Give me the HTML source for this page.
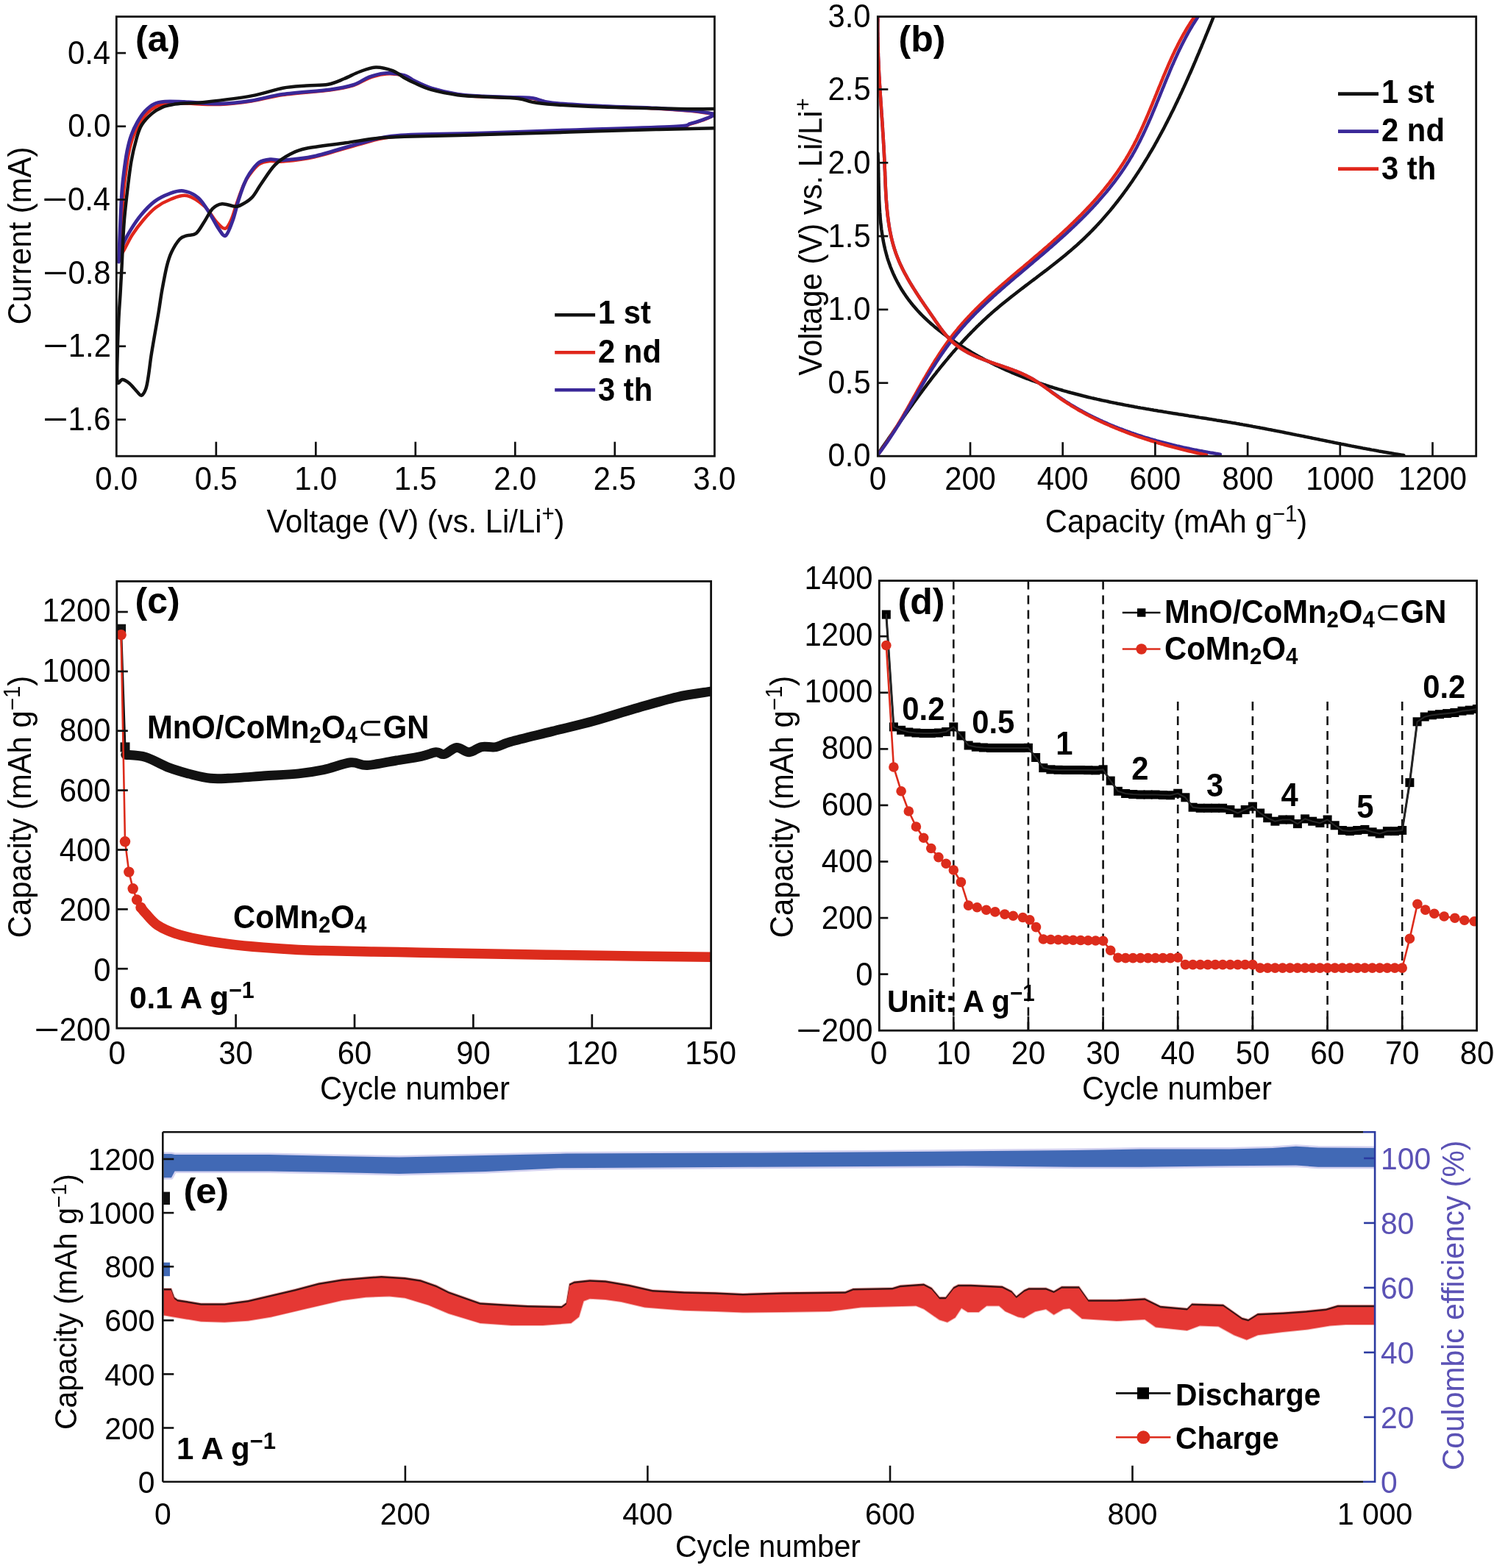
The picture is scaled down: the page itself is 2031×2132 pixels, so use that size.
<!DOCTYPE html>
<html><head><meta charset="utf-8"><title>Electrochemical performance</title>
<style>
html,body{margin:0;padding:0;background:#fff;width:2031px;height:2132px;overflow:hidden}
svg{display:block}
text{font-family:'Liberation Sans', Arial, sans-serif;}
</style></head><body>
<svg xmlns="http://www.w3.org/2000/svg" width="2031" height="2132" viewBox="0 0 2031 2132">
<rect width="2031" height="2132" fill="#fff"/>
<defs>
<clipPath id="ca"><rect x="158.3" y="22.6" width="813.1" height="597.6"/></clipPath>
<clipPath id="cb"><rect x="1193.3" y="22.6" width="813.4" height="597.6"/></clipPath>
<clipPath id="cc"><rect x="158.8" y="790.4" width="807.8" height="607.7"/></clipPath>
<clipPath id="cd"><rect x="1195.3" y="789.6" width="812.3" height="611.6"/></clipPath>
<clipPath id="ce"><rect x="221.3" y="1539.3" width="1647.8" height="475.5"/></clipPath>
</defs>
<g clip-path="url(#ca)">
<path d="M163 348 C163.4 340 164.7 314.3 165.5 300 C166.3 285.7 167.1 272.8 168 262 C168.9 251.2 169.8 244 171 235 C172.2 226 173.3 216.2 175 208 C176.7 199.8 178.5 192.7 181 186 C183.5 179.3 186.8 173.3 190 168 C193.2 162.7 196.3 157.8 200 154 C203.7 150.2 207.7 147.2 212 145 C216.3 142.8 219.7 141.8 226 141 C232.3 140.2 237.8 140.3 250 140.5 C262.2 140.7 284 142.5 299.3 142 C314.6 141.5 327.7 139.7 341.9 137.5 C356.1 135.3 366.7 131.5 384.5 129 C402.3 126.5 432.5 124.7 448.5 122.5 C464.5 120.3 471.6 118.8 480.5 116 C489.4 113.2 494.3 108.6 501.8 106 C509.3 103.4 517.3 101 525.3 100.5 C533.3 100 543.6 101.3 550 103 C556.4 104.7 557.4 107.6 563.5 110.5 C569.6 113.4 577.1 117.5 586.9 120.5 C596.7 123.5 610.4 126.7 622.1 128.5 C633.8 130.3 643.6 130.8 657.3 131.5 C671 132.2 692.9 132.6 704.2 133 C715.5 133.4 717.2 132.8 725 134 C732.8 135.2 735 138.7 751.1 140.5 C767.2 142.3 798 143.8 821.5 145 C845 146.2 872.3 146.5 891.8 147.5 C911.3 148.5 927.3 149.8 938.7 150.8 C950.1 151.8 954.7 152.6 960 153.5 C965.3 154.4 971.2 154.5 970.4 156.2 C969.6 157.9 960.3 161.4 955 163.5 C949.7 165.6 945.3 166.9 938.7 168.5 C932.1 170.1 942.7 171.4 915.3 173 C887.9 174.6 817.5 176.4 774.5 178 C731.5 179.6 696.4 181.2 657.3 182.5 C618.2 183.8 567.7 183.3 540 185.5 C512.3 187.7 510 190.8 491.2 195.5 C472.4 200.2 445 209.5 427.2 213.5 C409.4 217.5 394.4 218.6 384.5 219.5 C374.6 220.4 373.1 218.3 367.7 219 C362.3 219.7 356.9 220.2 352 223.5 C347.1 226.8 342.1 233.8 338.6 238.5 C335.1 243.2 333.8 245.8 331 252 C328.2 258.2 324.7 268.3 322 276 C319.3 283.7 317.4 292.2 314.7 298 C312 303.8 309.4 310.3 305.9 310.8 C302.4 311.3 298.6 306.3 293.9 301.2 C289.2 296.1 284.6 286.3 277.9 280.4 C271.2 274.5 261.6 267.6 253.9 266 C246.2 264.4 239 268.3 232 271 C225 273.7 218.2 277.3 212 282 C205.8 286.7 200.3 292.8 195 299 C189.7 305.2 184.4 312.2 180 319 C175.6 325.8 171.3 335.2 168.5 340 C165.7 344.8 163.9 346.7 163 348" fill="none" stroke="#e0261b" stroke-width="4.5" stroke-linejoin="round" stroke-linecap="round"/>
<path d="M161.4 356.1 C161.8 347.6 162.8 320.5 163.5 304.9 C164.2 289.2 164.8 274 165.6 262.2 C166.4 250.3 167.3 243.3 168.5 233.8 C169.7 224.3 171.2 213.6 172.8 205.3 C174.5 197 176 190.6 178.4 184 C180.8 177.4 183.9 170.9 187 165.5 C190.1 160.1 193.1 155.3 196.9 151.3 C200.7 147.3 205.2 143.5 209.7 141.3 C214.2 139.1 217.3 138.7 224 138.2 C230.7 137.7 237.4 138 250 138.5 C262.6 139 284 141.3 299.3 141 C314.6 140.7 327.7 138.9 341.9 136.8 C356.1 134.7 366.7 130.7 384.5 128.2 C402.3 125.7 432.5 123.9 448.5 121.8 C464.5 119.7 471.6 118.2 480.5 115.4 C489.4 112.6 494.3 107.5 501.8 104.8 C509.3 102.1 517.3 99.8 525.3 99.4 C533.3 99 543.6 100.8 550 102.6 C556.4 104.4 557.4 107.1 563.5 110 C569.6 112.9 577.1 117 586.9 120 C596.7 123 610.4 126.2 622.1 128 C633.8 129.8 643.6 130.2 657.3 131 C671 131.8 692.9 132.1 704.2 132.5 C715.5 132.9 717.2 132.2 725 133.5 C732.8 134.8 735 138.2 751.1 140 C767.2 141.8 798 143.3 821.5 144.5 C845 145.7 872.3 146 891.8 147 C911.3 148 927.3 149.3 938.7 150.3 C950.1 151.3 954.7 152 960 153 C965.3 154 971.2 154.5 970.4 156.2 C969.6 157.9 960.3 161 955 163 C949.7 165 945.3 166.5 938.7 168 C932.1 169.5 942.7 170.6 915.3 172.1 C887.9 173.6 817.5 175.3 774.5 176.8 C731.5 178.3 696.4 179.8 657.3 181 C618.2 182.2 567.7 182.1 540 184.3 C512.3 186.5 510 189.6 491.2 194.3 C472.4 199 445 208.5 427.2 212.4 C409.4 216.3 394.4 217.1 384.5 217.8 C374.6 218.5 373.1 216.2 367.7 216.7 C362.3 217.2 356.9 217.6 352 221 C347.1 224.4 341.9 232.2 338.6 237 C335.3 241.8 334.4 244 332 250 C329.6 256 326.6 264.7 324 273 C321.4 281.3 319.2 292.1 316.3 300 C313.4 307.9 309.9 318.6 306.7 320.4 C303.5 322.2 300.6 315.6 297.1 310.8 C293.6 306 290.4 298.5 285.9 291.6 C281.4 284.7 276 274.5 269.9 269.2 C263.8 263.9 255.8 260.6 249.1 259.6 C242.4 258.7 236.5 261.1 230 263.5 C223.5 265.9 216.3 269.2 210 274 C203.7 278.8 197.3 285.7 192 292 C186.7 298.3 182.2 305.2 178 312 C173.8 318.8 169.9 325.6 167.1 333 C164.3 340.4 162.3 352.2 161.4 356.1" fill="none" stroke="#3a2898" stroke-width="4.8" stroke-linejoin="round" stroke-linecap="round"/>
<path d="M971.6 174.2 C958.3 174.5 924.6 175.2 891.8 176.1 C858.9 177 813.6 178.4 774.5 179.6 C735.4 180.8 694.7 182.1 657.3 183.1 C619.9 184.1 574.1 185 550 185.8 C525.9 186.6 525.9 186.6 512.5 188 C499.1 189.4 485.8 192 469.8 194.3 C453.8 196.6 428.9 199.3 416.5 201.8 C404.1 204.3 402.3 205.6 395.2 209.3 C388.1 213 380.6 217.4 373.9 224.2 C367.2 231 360.3 242.5 355 250 C349.7 257.5 346.8 264.3 341.9 269.2 C337 274.1 329.9 277.7 325.9 279.6 C321.9 281.5 321.9 280.8 317.9 280.4 C313.9 280 306.7 276.7 301.9 277.2 C297.1 277.7 293.1 279.6 289.1 283.6 C285.1 287.6 281.6 295.6 277.9 301.2 C274.2 306.8 270.7 314 266.7 317.2 C262.7 320.4 257.6 319.1 253.9 320.4 C250.2 321.7 247.8 321.5 244.3 325.2 C240.9 328.9 236.1 336.7 233.2 342.8 C230.3 348.9 228.9 353.4 226.8 361.9 C224.7 370.4 222.3 383.5 220.4 393.9 C218.5 404.3 217.4 413.6 215.6 424.5 C213.8 435.4 211.3 449 209.6 459.1 C207.9 469.2 206.6 476.4 205.3 485 C204 493.6 203 503.7 201.8 510.9 C200.7 518.1 200 523.7 198.4 528.2 C196.8 532.7 194.3 537 192.3 537.7 C190.3 538.4 189 535.2 186.3 532.5 C183.6 529.8 179.2 524 175.9 521.3 C172.6 518.6 169.1 516.5 166.4 516.1 C163.7 515.7 160.6 525.3 159.5 518.7 C158.4 512.1 159.5 490.6 159.8 476.4 C160.1 462.1 160.8 445.9 161.4 433.2 C162 420.5 162.8 411.9 163.5 400 C164.2 388.1 164.8 377.7 165.6 361.8 C166.4 345.9 167.3 321.5 168.5 304.9 C169.7 288.3 171.2 276.4 172.8 262.2 C174.5 248 176.3 231.9 178.4 219.6 C180.5 207.3 183.2 196.6 185.6 188.3 C188 180 189.1 175.5 192.7 169.8 C196.2 164.1 202.2 158.1 206.9 154.1 C211.6 150.1 216.4 147.6 221.1 145.6 C225.8 143.6 230.5 142.9 235.3 142.1 C240.1 141.3 242.9 141.1 250 140.6 C257.1 140.1 262.7 140.6 278 138.9 C293.3 137.2 324.1 133.6 341.9 130.4 C359.6 127.2 372.1 122 384.5 119.7 C396.9 117.4 406.2 117.3 416.5 116.5 C426.8 115.7 437.4 116.4 446 114.8 C454.6 113.2 460.8 109.9 468 107 C475.2 104.1 481.8 100.1 489 97.5 C496.2 94.9 503.5 91.7 511 91.5 C518.5 91.3 527.3 93.8 533.8 96.2 C540.3 98.6 545 103.2 550 106 C555 108.8 557.4 110.1 563.5 112.8 C569.6 115.5 577.1 119.5 586.9 122.2 C596.7 124.9 610.4 127.6 622.1 129.2 C633.8 130.8 643.6 130.7 657.3 131.5 C671 132.3 693.2 132.7 704.2 133.9 C715.2 135.1 715.2 137.2 723 138.6 C730.8 140 734.7 140.9 751.1 142.1 C767.5 143.3 798 144.8 821.5 145.6 C845 146.4 872.3 146.8 891.8 147.2 C911.3 147.6 925.4 148.2 938.7 148.3 C952 148.4 966.1 148.1 971.6 148" fill="none" stroke="#121212" stroke-width="4.5" stroke-linejoin="round" stroke-linecap="round"/>
</g>
<rect x="158.3" y="22.6" width="813.1" height="597.6" fill="none" stroke="#111" stroke-width="2.8"/>
<line x1="293.8" y1="620.2" x2="293.8" y2="600.7" stroke="#111" stroke-width="2.7"/>
<line x1="429.3" y1="620.2" x2="429.3" y2="600.7" stroke="#111" stroke-width="2.7"/>
<line x1="564.8" y1="620.2" x2="564.8" y2="600.7" stroke="#111" stroke-width="2.7"/>
<line x1="700.3" y1="620.2" x2="700.3" y2="600.7" stroke="#111" stroke-width="2.7"/>
<line x1="835.8" y1="620.2" x2="835.8" y2="600.7" stroke="#111" stroke-width="2.7"/>
<line x1="158.3" y1="72.1" x2="171.1" y2="72.1" stroke="#111" stroke-width="2.7"/>
<line x1="158.3" y1="171.8" x2="171.1" y2="171.8" stroke="#111" stroke-width="2.7"/>
<line x1="158.3" y1="271.4" x2="171.1" y2="271.4" stroke="#111" stroke-width="2.7"/>
<line x1="158.3" y1="371.1" x2="171.1" y2="371.1" stroke="#111" stroke-width="2.7"/>
<line x1="158.3" y1="470.8" x2="171.1" y2="470.8" stroke="#111" stroke-width="2.7"/>
<line x1="158.3" y1="570.5" x2="171.1" y2="570.5" stroke="#111" stroke-width="2.7"/>
<text transform="translate(150 86.7) scale(0.950 1)" font-size="44" text-anchor="end">0.4</text>
<text transform="translate(150.4 186.4) scale(0.950 1)" font-size="44" text-anchor="end">0.0</text>
<text transform="translate(150 286.1) scale(0.950 1)" font-size="44" text-anchor="end">0.4</text>
<text transform="translate(57.6 286.1) scale(1.347 1)" font-size="44">−</text>
<text transform="translate(150.6 385.7) scale(0.950 1)" font-size="44" text-anchor="end">0.8</text>
<text transform="translate(58.2 385.7) scale(1.347 1)" font-size="44">−</text>
<text transform="translate(150.9 485.4) scale(0.950 1)" font-size="44" text-anchor="end">1.2</text>
<text transform="translate(58.5 485.4) scale(1.347 1)" font-size="44">−</text>
<text transform="translate(150.6 585.1) scale(0.950 1)" font-size="44" text-anchor="end">1.6</text>
<text transform="translate(58.2 585.1) scale(1.347 1)" font-size="44">−</text>
<text transform="translate(158.3 665.7) scale(0.950 1)" font-size="44" text-anchor="middle">0.0</text>
<text transform="translate(293.8 665.7) scale(0.950 1)" font-size="44" text-anchor="middle">0.5</text>
<text transform="translate(429.3 665.7) scale(0.950 1)" font-size="44" text-anchor="middle">1.0</text>
<text transform="translate(564.8 665.7) scale(0.950 1)" font-size="44" text-anchor="middle">1.5</text>
<text transform="translate(700.3 665.7) scale(0.950 1)" font-size="44" text-anchor="middle">2.0</text>
<text transform="translate(835.8 665.7) scale(0.950 1)" font-size="44" text-anchor="middle">2.5</text>
<text transform="translate(971.3 665.7) scale(0.950 1)" font-size="44" text-anchor="middle">3.0</text>
<text transform="translate(565 724.4) scale(0.950 1)" font-size="44" text-anchor="middle">Voltage (V) (vs. Li/Li<tspan font-size="31" dy="-15">+</tspan><tspan dy="15">)</tspan></text>
<text transform="translate(42 320.4) rotate(-90) scale(0.950 1)" font-size="44" text-anchor="middle">Current (mA)</text>
<text transform="translate(183.9 70.3)" font-size="50" font-weight="bold">(a)</text>
<line x1="754.2" y1="428.3" x2="809.1" y2="428.3" stroke="#121212" stroke-width="4.6"/>
<text transform="translate(813 440.3) scale(0.950 1)" font-size="44" font-weight="bold">1 st</text>
<line x1="754.2" y1="479.3" x2="809.1" y2="479.3" stroke="#e0261b" stroke-width="4.6"/>
<text transform="translate(813 492.8) scale(0.950 1)" font-size="44" font-weight="bold">2 nd</text>
<line x1="754.2" y1="530.3" x2="809.1" y2="530.3" stroke="#3a2898" stroke-width="4.6"/>
<text transform="translate(813 545.3) scale(0.950 1)" font-size="44" font-weight="bold">3 th</text>
<g clip-path="url(#cb)">
<path d="M1193.4 208.4 L1193.5 210.3 L1193.6 212.3 L1193.6 214.2 L1193.7 216.2 L1193.8 218.1 L1193.8 220.1 L1193.9 222 L1194 224 L1194 226 L1194.1 228 L1194.1 230 L1194.2 231.9 L1194.2 233.9 L1194.3 235.9 L1194.3 237.9 L1194.3 240 L1194.4 242 L1194.4 244 L1194.5 246 L1194.5 248 L1194.6 250.1 L1194.6 252.1 L1194.7 254.1 L1194.7 256.2 L1194.8 258.2 L1194.8 260.3 L1194.9 262.3 L1194.9 264.3 L1195 266.4 L1195.1 268.4 L1195.1 270.5 L1195.2 272.5 L1195.3 274.6 L1195.4 276.6 L1195.5 278.7 L1195.6 280.7 L1195.7 282.8 L1195.8 284.8 L1196 286.9 L1196.1 288.9 L1196.3 291 L1196.4 293 L1196.6 295 L1196.7 297.1 L1196.9 299.1 L1197.1 301.2 L1197.3 303.2 L1197.5 305.2 L1197.8 307.2 L1198 309.3 L1198.2 311.3 L1198.5 313.3 L1198.8 315.3 L1199.1 317.3 L1199.4 319.3 L1199.7 321.3 L1200 323.3 L1200.4 325.3 L1200.7 327.3 L1201.1 329.3 L1201.5 331.2 L1201.9 333.2 L1202.3 335.1 L1202.8 337.1 L1203.2 339 L1203.7 341 L1204.2 342.9 L1204.7 344.8 L1205.2 346.8 L1205.8 348.7 L1206.3 350.6 L1206.9 352.5 L1207.5 354.3 L1208.2 356.2 L1208.8 358.1 L1209.5 359.9 L1210.1 361.8 L1210.8 363.6 L1211.6 365.5 L1212.3 367.3 L1213.1 369.1 L1213.8 370.9 L1214.6 372.7 L1215.5 374.5 L1216.3 376.3 L1217.1 378 L1218 379.8 L1218.9 381.5 L1219.8 383.3 L1220.7 385 L1221.7 386.7 L1222.6 388.4 L1223.6 390.1 L1224.6 391.8 L1225.6 393.5 L1226.7 395.2 L1227.7 396.8 L1228.8 398.5 L1229.9 400.1 L1231 401.7 L1232.1 403.3 L1233.3 404.9 L1234.4 406.5 L1235.6 408.1 L1236.8 409.7 L1238 411.2 L1239.2 412.8 L1240.5 414.3 L1241.7 415.8 L1243 417.3 L1244.3 418.8 L1245.6 420.3 L1246.9 421.8 L1248.3 423.3 L1249.7 424.7 L1251 426.2 L1252.4 427.6 L1253.8 429 L1255.2 430.4 L1256.7 431.8 L1258.1 433.2 L1259.6 434.6 L1261 435.9 L1262.5 437.3 L1264 438.6 L1265.5 440 L1267 441.3 L1268.6 442.6 L1270.1 443.9 L1271.7 445.2 L1273.2 446.5 L1274.8 447.7 L1276.4 449 L1278 450.3 L1279.6 451.5 L1281.2 452.7 L1282.8 454 L1284.4 455.2 L1286.1 456.4 L1287.7 457.6 L1289.4 458.7 L1291 459.9 L1292.7 461.1 L1294.4 462.2 L1296.1 463.4 L1297.7 464.5 L1299.4 465.7 L1301.1 466.8 L1302.8 467.9 L1304.5 469 L1306.2 470.1 L1308 471.2 L1309.7 472.3 L1311.4 473.3 L1313.1 474.4 L1314.9 475.5 L1316.6 476.5 L1318.3 477.5 L1320.1 478.6 L1321.8 479.6 L1323.6 480.6 L1325.3 481.6 L1327.1 482.6 L1328.8 483.6 L1330.6 484.6 L1332.4 485.6 L1334.1 486.5 L1335.9 487.5 L1337.7 488.4 L1339.5 489.4 L1341.3 490.3 L1343.1 491.2 L1344.8 492.1 L1346.6 493 L1348.4 493.9 L1350.2 494.8 L1352 495.7 L1353.9 496.6 L1355.7 497.5 L1357.5 498.3 L1359.3 499.2 L1361.1 500 L1362.9 500.9 L1364.8 501.7 L1366.6 502.6 L1368.4 503.4 L1370.3 504.2 L1372.1 505 L1373.9 505.8 L1375.8 506.6 L1377.6 507.4 L1379.5 508.1 L1381.3 508.9 L1383.2 509.7 L1385 510.4 L1386.9 511.2 L1388.7 511.9 L1390.6 512.6 L1392.5 513.4 L1394.3 514.1 L1396.2 514.8 L1398.1 515.5 L1399.9 516.2 L1401.8 516.9 L1403.7 517.6 L1405.5 518.2 L1407.4 518.9 L1409.3 519.6 L1411.2 520.2 L1413.1 520.9 L1415 521.5 L1416.8 522.2 L1418.7 522.8 L1420.6 523.4 L1422.5 524.1 L1424.4 524.7 L1426.3 525.3 L1428.2 525.9 L1430.1 526.5 L1432 527.1 L1433.9 527.7 L1435.8 528.2 L1437.7 528.8 L1439.7 529.4 L1441.6 529.9 L1443.5 530.5 L1445.4 531.1 L1447.3 531.6 L1449.2 532.1 L1451.2 532.7 L1453.1 533.2 L1455 533.7 L1456.9 534.3 L1458.9 534.8 L1460.8 535.3 L1462.7 535.8 L1464.6 536.3 L1466.6 536.8 L1468.5 537.3 L1470.4 537.8 L1472.4 538.3 L1474.3 538.7 L1476.3 539.2 L1478.2 539.7 L1480.1 540.2 L1482.1 540.6 L1484 541.1 L1486 541.5 L1487.9 542 L1489.9 542.4 L1491.8 542.9 L1493.8 543.3 L1495.7 543.7 L1497.7 544.2 L1499.6 544.6 L1501.6 545 L1503.5 545.4 L1505.5 545.8 L1507.4 546.3 L1509.4 546.7 L1511.4 547.1 L1513.3 547.5 L1515.3 547.9 L1517.3 548.3 L1519.2 548.7 L1521.2 549.1 L1523.2 549.4 L1525.1 549.8 L1527.1 550.2 L1529.1 550.6 L1531 551 L1533 551.3 L1535 551.7 L1536.9 552.1 L1538.9 552.4 L1540.9 552.8 L1542.9 553.2 L1544.8 553.5 L1546.8 553.9 L1548.8 554.2 L1550.8 554.6 L1552.7 554.9 L1554.7 555.3 L1556.7 555.6 L1558.7 556 L1560.7 556.3 L1562.6 556.6 L1564.6 557 L1566.6 557.3 L1568.6 557.7 L1570.6 558 L1572.5 558.3 L1574.5 558.7 L1576.5 559 L1578.5 559.3 L1580.5 559.6 L1582.5 560 L1584.5 560.3 L1586.4 560.6 L1588.4 560.9 L1590.4 561.2 L1592.4 561.6 L1594.4 561.9 L1596.4 562.2 L1598.4 562.5 L1600.3 562.8 L1602.3 563.2 L1604.3 563.5 L1606.3 563.8 L1608.3 564.1 L1610.3 564.4 L1612.3 564.7 L1614.3 565 L1616.2 565.4 L1618.2 565.7 L1620.2 566 L1622.2 566.3 L1624.2 566.6 L1626.2 566.9 L1628.2 567.2 L1630.2 567.6 L1632.1 567.9 L1634.1 568.2 L1636.1 568.5 L1638.1 568.8 L1640.1 569.1 L1642.1 569.4 L1644.1 569.8 L1646.1 570.1 L1648 570.4 L1650 570.7 L1652 571 L1654 571.4 L1656 571.7 L1658 572 L1660 572.3 L1661.9 572.7 L1663.9 573 L1665.9 573.3 L1667.9 573.6 L1669.9 574 L1671.9 574.3 L1673.8 574.6 L1675.8 575 L1677.8 575.3 L1679.8 575.6 L1681.8 576 L1683.7 576.3 L1685.7 576.7 L1687.7 577 L1689.7 577.4 L1691.6 577.7 L1693.6 578.1 L1695.6 578.4 L1697.6 578.8 L1699.5 579.1 L1701.5 579.5 L1703.5 579.9 L1705.5 580.2 L1707.4 580.6 L1709.4 581 L1711.4 581.3 L1713.3 581.7 L1715.3 582.1 L1717.3 582.4 L1719.2 582.8 L1721.2 583.2 L1723.2 583.6 L1725.1 584 L1727.1 584.3 L1729.1 584.7 L1731 585.1 L1733 585.5 L1735 585.9 L1736.9 586.3 L1738.9 586.6 L1740.9 587 L1742.8 587.4 L1744.8 587.8 L1746.8 588.2 L1748.7 588.6 L1750.7 589 L1752.7 589.4 L1754.6 589.8 L1756.6 590.2 L1758.5 590.6 L1760.5 591 L1762.5 591.4 L1764.4 591.7 L1766.4 592.1 L1768.3 592.5 L1770.3 592.9 L1772.3 593.3 L1774.2 593.7 L1776.2 594.1 L1778.2 594.5 L1780.1 594.9 L1782.1 595.3 L1784 595.7 L1786 596.1 L1788 596.5 L1789.9 596.9 L1791.9 597.3 L1793.8 597.7 L1795.8 598.1 L1797.8 598.5 L1799.7 598.9 L1801.7 599.3 L1803.7 599.7 L1805.6 600.1 L1807.6 600.5 L1809.5 600.9 L1811.5 601.3 L1813.5 601.7 L1815.4 602.1 L1817.4 602.5 L1819.4 602.9 L1821.3 603.3 L1823.3 603.7 L1825.3 604 L1827.2 604.4 L1829.2 604.8 L1831.2 605.2 L1833.1 605.6 L1835.1 606 L1837.1 606.4 L1839 606.7 L1841 607.1 L1843 607.5 L1844.9 607.9 L1846.9 608.3 L1848.9 608.6 L1850.8 609 L1852.8 609.4 L1854.8 609.7 L1856.8 610.1 L1858.7 610.5 L1860.7 610.8 L1862.7 611.2 L1864.7 611.6 L1866.6 611.9 L1868.6 612.3 L1870.6 612.6 L1872.6 613 L1874.5 613.4 L1876.5 613.7 L1878.5 614.1 L1880.5 614.4 L1882.5 614.7 L1884.4 615.1 L1886.4 615.4 L1888.4 615.8 L1890.4 616.1 L1892.4 616.4 L1894.4 616.8 L1896.3 617.1 L1898.3 617.4 L1900.3 617.7 L1902.3 618.1 L1904.3 618.4 L1906.3 618.7 L1908.3 619" fill="none" stroke="#121212" stroke-width="4.5" stroke-linejoin="round" stroke-linecap="round"/>
<path d="M1193.4 617.4 L1194.6 615.7 L1195.7 614.1 L1196.9 612.4 L1198 610.7 L1199.1 609.1 L1200.3 607.4 L1201.4 605.8 L1202.6 604.1 L1203.7 602.5 L1204.9 600.8 L1206 599.2 L1207.2 597.5 L1208.3 595.8 L1209.4 594.2 L1210.6 592.5 L1211.7 590.9 L1212.9 589.2 L1214 587.6 L1215.2 585.9 L1216.3 584.2 L1217.5 582.6 L1218.6 580.9 L1219.8 579.3 L1220.9 577.6 L1222.1 576 L1223.2 574.3 L1224.4 572.7 L1225.5 571 L1226.7 569.4 L1227.9 567.7 L1229 566.1 L1230.2 564.4 L1231.3 562.8 L1232.5 561.1 L1233.7 559.5 L1234.8 557.8 L1236 556.2 L1237.2 554.5 L1238.3 552.9 L1239.5 551.3 L1240.7 549.6 L1241.8 548 L1243 546.4 L1244.2 544.7 L1245.4 543.1 L1246.6 541.5 L1247.7 539.8 L1248.9 538.2 L1250.1 536.6 L1251.3 535 L1252.5 533.4 L1253.7 531.7 L1254.9 530.1 L1256.1 528.5 L1257.3 526.9 L1258.5 525.3 L1259.7 523.7 L1260.9 522.1 L1262.1 520.5 L1263.4 518.9 L1264.6 517.3 L1265.8 515.7 L1267 514.1 L1268.2 512.5 L1269.5 510.9 L1270.7 509.4 L1272 507.8 L1273.2 506.2 L1274.4 504.6 L1275.7 503.1 L1276.9 501.5 L1278.2 499.9 L1279.4 498.4 L1280.7 496.8 L1282 495.3 L1283.2 493.7 L1284.5 492.2 L1285.8 490.6 L1287.1 489.1 L1288.4 487.6 L1289.6 486 L1290.9 484.5 L1292.2 483 L1293.5 481.4 L1294.8 479.9 L1296.1 478.4 L1297.5 476.9 L1298.8 475.4 L1300.1 473.9 L1301.4 472.4 L1302.7 470.9 L1304.1 469.4 L1305.4 467.9 L1306.8 466.5 L1308.1 465 L1309.5 463.5 L1310.8 462.1 L1312.2 460.6 L1313.6 459.1 L1314.9 457.7 L1316.3 456.2 L1317.7 454.8 L1319.1 453.4 L1320.5 451.9 L1321.9 450.5 L1323.3 449.1 L1324.7 447.7 L1326.1 446.3 L1327.5 444.8 L1328.9 443.4 L1330.4 442.1 L1331.8 440.7 L1333.3 439.3 L1334.7 437.9 L1336.2 436.5 L1337.6 435.2 L1339.1 433.8 L1340.6 432.4 L1342 431.1 L1343.5 429.7 L1345 428.4 L1346.5 427.1 L1348 425.7 L1349.5 424.4 L1351 423.1 L1352.5 421.8 L1354.1 420.5 L1355.6 419.2 L1357.1 417.9 L1358.7 416.6 L1360.2 415.3 L1361.8 414 L1363.3 412.8 L1364.9 411.5 L1366.5 410.2 L1368 409 L1369.6 407.7 L1371.2 406.4 L1372.7 405.2 L1374.3 403.9 L1375.9 402.7 L1377.5 401.5 L1379.1 400.2 L1380.7 399 L1382.3 397.7 L1383.9 396.5 L1385.5 395.3 L1387.1 394 L1388.7 392.8 L1390.3 391.6 L1391.9 390.4 L1393.5 389.1 L1395.1 387.9 L1396.7 386.7 L1398.3 385.5 L1399.9 384.3 L1401.6 383 L1403.2 381.8 L1404.8 380.6 L1406.4 379.4 L1408 378.2 L1409.6 376.9 L1411.2 375.7 L1412.8 374.5 L1414.4 373.3 L1416 372.1 L1417.7 370.8 L1419.3 369.6 L1420.9 368.4 L1422.5 367.2 L1424.1 365.9 L1425.7 364.7 L1427.2 363.5 L1428.8 362.2 L1430.4 361 L1432 359.8 L1433.6 358.5 L1435.2 357.3 L1436.8 356 L1438.3 354.8 L1439.9 353.5 L1441.5 352.3 L1443 351 L1444.6 349.7 L1446.1 348.5 L1447.7 347.2 L1449.2 345.9 L1450.8 344.6 L1452.3 343.3 L1453.8 342 L1455.4 340.7 L1456.9 339.4 L1458.4 338.1 L1459.9 336.8 L1461.4 335.5 L1462.9 334.2 L1464.4 332.9 L1465.9 331.5 L1467.3 330.2 L1468.8 328.8 L1470.3 327.5 L1471.7 326.1 L1473.2 324.8 L1474.6 323.4 L1476 322 L1477.4 320.6 L1478.9 319.2 L1480.3 317.8 L1481.7 316.4 L1483.1 315 L1484.5 313.6 L1485.9 312.2 L1487.2 310.7 L1488.6 309.3 L1490 307.9 L1491.3 306.4 L1492.7 305 L1494 303.5 L1495.4 302 L1496.7 300.6 L1498 299.1 L1499.3 297.6 L1500.6 296.1 L1501.9 294.6 L1503.2 293.1 L1504.5 291.6 L1505.8 290.1 L1507.1 288.6 L1508.4 287.1 L1509.7 285.6 L1510.9 284 L1512.2 282.5 L1513.4 281 L1514.7 279.4 L1515.9 277.9 L1517.1 276.3 L1518.4 274.8 L1519.6 273.2 L1520.8 271.6 L1522 270 L1523.2 268.5 L1524.4 266.9 L1525.6 265.3 L1526.8 263.7 L1528 262.1 L1529.1 260.5 L1530.3 258.9 L1531.5 257.3 L1532.6 255.7 L1533.8 254 L1534.9 252.4 L1536.1 250.8 L1537.2 249.1 L1538.4 247.5 L1539.5 245.9 L1540.6 244.2 L1541.7 242.6 L1542.8 240.9 L1543.9 239.3 L1545 237.6 L1546.1 235.9 L1547.2 234.3 L1548.3 232.6 L1549.4 230.9 L1550.5 229.2 L1551.6 227.5 L1552.6 225.8 L1553.7 224.1 L1554.7 222.4 L1555.8 220.7 L1556.8 219 L1557.9 217.3 L1558.9 215.6 L1560 213.9 L1561 212.2 L1562 210.5 L1563 208.7 L1564 207 L1565.1 205.3 L1566.1 203.5 L1567.1 201.8 L1568.1 200.1 L1569.1 198.3 L1570.1 196.6 L1571 194.8 L1572 193.1 L1573 191.3 L1574 189.5 L1574.9 187.8 L1575.9 186 L1576.9 184.2 L1577.8 182.5 L1578.8 180.7 L1579.7 178.9 L1580.7 177.2 L1581.6 175.4 L1582.6 173.6 L1583.5 171.8 L1584.4 170 L1585.3 168.2 L1586.3 166.4 L1587.2 164.6 L1588.1 162.8 L1589 161 L1589.9 159.2 L1590.8 157.4 L1591.7 155.6 L1592.6 153.8 L1593.5 152 L1594.4 150.2 L1595.3 148.4 L1596.2 146.6 L1597.1 144.7 L1597.9 142.9 L1598.8 141.1 L1599.7 139.3 L1600.6 137.5 L1601.4 135.6 L1602.3 133.8 L1603.2 132 L1604 130.1 L1604.9 128.3 L1605.7 126.5 L1606.6 124.6 L1607.4 122.8 L1608.2 121 L1609.1 119.1 L1609.9 117.3 L1610.8 115.4 L1611.6 113.6 L1612.4 111.8 L1613.2 109.9 L1614.1 108.1 L1614.9 106.2 L1615.7 104.4 L1616.5 102.5 L1617.3 100.7 L1618.2 98.8 L1619 97 L1619.8 95.1 L1620.6 93.3 L1621.4 91.4 L1622.2 89.6 L1623 87.7 L1623.8 85.9 L1624.6 84 L1625.4 82.1 L1626.1 80.3 L1626.9 78.4 L1627.7 76.6 L1628.5 74.7 L1629.3 72.9 L1630.1 71 L1630.8 69.1 L1631.6 67.3 L1632.4 65.4 L1633.2 63.6 L1633.9 61.7 L1634.7 59.9 L1635.5 58 L1636.2 56.1 L1637 54.3 L1637.8 52.4 L1638.5 50.6 L1639.3 48.7 L1640 46.9 L1640.8 45 L1641.6 43.2 L1642.3 41.3 L1643.1 39.5 L1643.8 37.6 L1644.6 35.7 L1645.3 33.9 L1646.1 32 L1646.8 30.2 L1647.6 28.3 L1648.3 26.5 L1649 24.6 L1649.8 22.8 L1650.5 21" fill="none" stroke="#121212" stroke-width="4.5" stroke-linejoin="round" stroke-linecap="round"/>
<path d="M1193.4 22.7 L1193.3 24.7 L1193.3 26.8 L1193.3 28.8 L1193.2 30.9 L1193.2 32.9 L1193.2 34.9 L1193.2 37 L1193.2 39 L1193.2 41 L1193.2 43.1 L1193.3 45.1 L1193.3 47.1 L1193.3 49.1 L1193.3 51.2 L1193.4 53.2 L1193.4 55.2 L1193.4 57.2 L1193.5 59.2 L1193.5 61.3 L1193.6 63.3 L1193.6 65.3 L1193.7 67.3 L1193.7 69.3 L1193.8 71.3 L1193.9 73.3 L1193.9 75.3 L1194 77.3 L1194.1 79.3 L1194.2 81.3 L1194.3 83.3 L1194.4 85.3 L1194.4 87.3 L1194.5 89.3 L1194.6 91.3 L1194.7 93.3 L1194.8 95.3 L1194.9 97.3 L1195 99.2 L1195.1 101.2 L1195.2 103.2 L1195.4 105.2 L1195.5 107.2 L1195.6 109.2 L1195.7 111.2 L1195.8 113.2 L1195.9 115.1 L1196.1 117.1 L1196.2 119.1 L1196.3 121.1 L1196.4 123.1 L1196.6 125.1 L1196.7 127 L1196.8 129 L1196.9 131 L1197.1 133 L1197.2 135 L1197.3 136.9 L1197.5 138.9 L1197.6 140.9 L1197.7 142.9 L1197.9 144.9 L1198 146.9 L1198.1 148.8 L1198.3 150.8 L1198.4 152.8 L1198.5 154.8 L1198.7 156.8 L1198.8 158.8 L1199 160.7 L1199.1 162.7 L1199.2 164.7 L1199.4 166.7 L1199.5 168.7 L1199.6 170.7 L1199.8 172.7 L1199.9 174.7 L1200 176.7 L1200.1 178.7 L1200.3 180.7 L1200.4 182.6 L1200.5 184.6 L1200.6 186.6 L1200.8 188.6 L1200.9 190.6 L1201 192.6 L1201.1 194.6 L1201.2 196.7 L1201.4 198.7 L1201.5 200.7 L1201.6 202.7 L1201.7 204.7 L1201.8 206.7 L1201.9 208.7 L1202 210.7 L1202.1 212.7 L1202.2 214.8 L1202.3 216.8 L1202.4 218.8 L1202.5 220.8 L1202.6 222.9 L1202.7 224.9 L1202.7 226.9 L1202.8 228.9 L1202.9 231 L1203 233 L1203.1 235 L1203.1 237.1 L1203.2 239.1 L1203.3 241.2 L1203.4 243.2 L1203.4 245.2 L1203.5 247.3 L1203.6 249.3 L1203.7 251.4 L1203.8 253.4 L1203.9 255.4 L1204 257.5 L1204.1 259.5 L1204.2 261.5 L1204.3 263.6 L1204.4 265.6 L1204.5 267.6 L1204.7 269.7 L1204.8 271.7 L1205 273.7 L1205.1 275.8 L1205.3 277.8 L1205.4 279.8 L1205.6 281.8 L1205.8 283.8 L1206 285.8 L1206.2 287.9 L1206.4 289.9 L1206.6 291.9 L1206.8 293.9 L1207.1 295.9 L1207.3 297.9 L1207.6 299.8 L1207.9 301.8 L1208.2 303.8 L1208.5 305.8 L1208.8 307.8 L1209.1 309.7 L1209.4 311.7 L1209.8 313.6 L1210.2 315.6 L1210.6 317.5 L1211 319.5 L1211.4 321.4 L1211.8 323.3 L1212.3 325.3 L1212.8 327.2 L1213.2 329.1 L1213.8 331 L1214.3 332.9 L1214.8 334.8 L1215.4 336.7 L1216 338.6 L1216.6 340.4 L1217.2 342.3 L1217.8 344.2 L1218.5 346 L1219.2 347.9 L1219.9 349.7 L1220.6 351.5 L1221.4 353.3 L1222.1 355.1 L1222.9 357 L1223.7 358.8 L1224.5 360.5 L1225.4 362.3 L1226.2 364.1 L1227.1 365.9 L1228 367.7 L1228.9 369.4 L1229.8 371.2 L1230.7 372.9 L1231.7 374.7 L1232.7 376.4 L1233.6 378.2 L1234.6 379.9 L1235.6 381.6 L1236.6 383.4 L1237.6 385.1 L1238.7 386.8 L1239.7 388.5 L1240.8 390.2 L1241.8 391.9 L1242.9 393.6 L1244 395.3 L1245.1 397 L1246.2 398.7 L1247.3 400.4 L1248.4 402.1 L1249.5 403.8 L1250.6 405.5 L1251.7 407.2 L1252.9 408.9 L1254 410.6 L1255.2 412.2 L1256.3 413.9 L1257.4 415.6 L1258.6 417.3 L1259.8 419 L1260.9 420.6 L1262.1 422.3 L1263.2 424 L1264.4 425.7 L1265.5 427.4 L1266.7 429 L1267.9 430.7 L1269 432.4 L1270.2 434.1 L1271.3 435.8 L1272.5 437.5 L1273.6 439.1 L1274.8 440.8 L1276 442.5 L1277.2 444.1 L1278.3 445.8 L1279.5 447.4 L1280.7 449 L1282 450.6 L1283.2 452.2 L1284.4 453.7 L1285.7 455.3 L1287 456.8 L1288.3 458.3 L1289.6 459.7 L1291 461.1 L1292.4 462.5 L1293.8 463.9 L1295.2 465.2 L1296.7 466.4 L1298.2 467.7 L1299.7 468.9 L1301.2 470.1 L1302.8 471.2 L1304.4 472.4 L1306 473.5 L1307.6 474.5 L1309.2 475.6 L1310.9 476.6 L1312.6 477.6 L1314.3 478.5 L1316 479.5 L1317.8 480.4 L1319.5 481.3 L1321.3 482.1 L1323.1 483 L1324.9 483.8 L1326.7 484.6 L1328.5 485.4 L1330.3 486.2 L1332.2 487 L1334 487.7 L1335.9 488.5 L1337.8 489.2 L1339.6 489.9 L1341.5 490.6 L1343.4 491.3 L1345.3 492 L1347.2 492.7 L1349.1 493.4 L1351 494 L1352.9 494.7 L1354.9 495.3 L1356.8 496 L1358.7 496.6 L1360.6 497.3 L1362.5 497.9 L1364.4 498.6 L1366.4 499.3 L1368.3 499.9 L1370.2 500.6 L1372.1 501.3 L1374 502 L1375.9 502.7 L1377.8 503.4 L1379.6 504.1 L1381.5 504.8 L1383.4 505.6 L1385.2 506.3 L1387.1 507.1 L1388.9 507.9 L1390.7 508.7 L1392.5 509.5 L1394.3 510.4 L1396.1 511.3 L1397.9 512.2 L1399.7 513.1 L1401.4 514.1 L1403.2 515 L1404.9 516 L1406.6 517.1 L1408.3 518.1 L1410 519.2 L1411.6 520.3 L1413.3 521.4 L1415 522.5 L1416.6 523.6 L1418.3 524.7 L1419.9 525.9 L1421.5 527 L1423.2 528.2 L1424.8 529.3 L1426.4 530.5 L1428.1 531.7 L1429.7 532.9 L1431.3 534 L1432.9 535.2 L1434.6 536.3 L1436.2 537.5 L1437.9 538.6 L1439.5 539.8 L1441.2 540.9 L1442.8 542 L1444.5 543.1 L1446.2 544.2 L1447.8 545.3 L1449.5 546.4 L1451.2 547.5 L1452.9 548.5 L1454.6 549.6 L1456.3 550.6 L1458.1 551.7 L1459.8 552.7 L1461.5 553.7 L1463.2 554.7 L1465 555.7 L1466.7 556.7 L1468.5 557.7 L1470.2 558.6 L1472 559.6 L1473.7 560.6 L1475.5 561.5 L1477.3 562.4 L1479 563.4 L1480.8 564.3 L1482.6 565.2 L1484.4 566.1 L1486.2 567 L1488 567.8 L1489.8 568.7 L1491.6 569.6 L1493.4 570.4 L1495.2 571.3 L1497.1 572.1 L1498.9 573 L1500.7 573.8 L1502.6 574.6 L1504.4 575.4 L1506.2 576.2 L1508.1 577 L1509.9 577.8 L1511.8 578.5 L1513.6 579.3 L1515.5 580.1 L1517.4 580.8 L1519.2 581.6 L1521.1 582.3 L1523 583 L1524.9 583.7 L1526.7 584.4 L1528.6 585.2 L1530.5 585.9 L1532.4 586.5 L1534.3 587.2 L1536.2 587.9 L1538.1 588.6 L1540 589.2 L1541.9 589.9 L1543.8 590.5 L1545.7 591.2 L1547.6 591.8 L1549.6 592.4 L1551.5 593 L1553.4 593.7 L1555.3 594.3 L1557.2 594.9 L1559.2 595.4 L1561.1 596 L1563 596.6 L1565 597.2 L1566.9 597.7 L1568.8 598.3 L1570.8 598.8 L1572.7 599.4 L1574.7 599.9 L1576.6 600.5 L1578.5 601 L1580.5 601.5 L1582.4 602 L1584.4 602.5 L1586.3 603 L1588.3 603.5 L1590.2 604 L1592.2 604.5 L1594.2 605 L1596.1 605.4 L1598.1 605.9 L1600 606.4 L1602 606.8 L1604 607.3 L1605.9 607.7 L1607.9 608.2 L1609.8 608.6 L1611.8 609 L1613.8 609.4 L1615.7 609.8 L1617.7 610.3 L1619.7 610.7 L1621.6 611.1 L1623.6 611.5 L1625.5 611.8 L1627.5 612.2 L1629.5 612.6 L1631.4 613 L1633.4 613.3 L1635.4 613.7 L1637.3 614.1 L1639.3 614.4 L1641.3 614.8 L1643.2 615.1 L1645.2 615.5 L1647.1 615.8 L1649.1 616.1 L1651.1 616.4 L1653 616.8 L1655 617.1 L1656.9 617.4 L1658.9 617.7" fill="none" stroke="#3a2898" stroke-width="4.5" stroke-linejoin="round" stroke-linecap="round"/>
<path d="M1193.5 618 L1194.7 616.4 L1195.9 614.9 L1197.1 613.3 L1198.2 611.7 L1199.4 610.1 L1200.5 608.4 L1201.7 606.8 L1202.8 605.2 L1203.9 603.6 L1205 601.9 L1206.2 600.3 L1207.3 598.6 L1208.4 596.9 L1209.5 595.3 L1210.5 593.6 L1211.6 591.9 L1212.7 590.2 L1213.8 588.5 L1214.8 586.8 L1215.9 585.1 L1217 583.4 L1218 581.7 L1219.1 580 L1220.1 578.3 L1221.1 576.5 L1222.2 574.8 L1223.2 573.1 L1224.2 571.3 L1225.3 569.6 L1226.3 567.8 L1227.3 566.1 L1228.3 564.3 L1229.3 562.6 L1230.3 560.8 L1231.4 559.1 L1232.4 557.3 L1233.4 555.6 L1234.4 553.8 L1235.4 552 L1236.4 550.3 L1237.4 548.5 L1238.4 546.7 L1239.4 544.9 L1240.4 543.2 L1241.4 541.4 L1242.4 539.6 L1243.4 537.8 L1244.4 536.1 L1245.4 534.3 L1246.4 532.5 L1247.4 530.7 L1248.4 529 L1249.4 527.2 L1250.4 525.4 L1251.4 523.7 L1252.4 521.9 L1253.4 520.1 L1254.4 518.4 L1255.4 516.6 L1256.4 514.8 L1257.5 513.1 L1258.5 511.3 L1259.5 509.6 L1260.5 507.8 L1261.6 506.1 L1262.6 504.3 L1263.7 502.6 L1264.7 500.8 L1265.7 499.1 L1266.8 497.4 L1267.8 495.6 L1268.9 493.9 L1270 492.2 L1271 490.5 L1272.1 488.8 L1273.2 487.1 L1274.3 485.4 L1275.4 483.7 L1276.5 482 L1277.6 480.3 L1278.7 478.6 L1279.8 476.9 L1280.9 475.3 L1282.1 473.6 L1283.2 472 L1284.4 470.3 L1285.5 468.7 L1286.7 467 L1287.9 465.4 L1289 463.8 L1290.2 462.2 L1291.4 460.6 L1292.6 459 L1293.8 457.4 L1295 455.8 L1296.3 454.3 L1297.5 452.7 L1298.8 451.1 L1300 449.6 L1301.3 448.1 L1302.6 446.5 L1303.8 445 L1305.1 443.5 L1306.4 442 L1307.7 440.5 L1309 439 L1310.4 437.5 L1311.7 436 L1313 434.6 L1314.4 433.1 L1315.7 431.6 L1317.1 430.2 L1318.5 428.7 L1319.8 427.3 L1321.2 425.9 L1322.6 424.4 L1324 423 L1325.4 421.6 L1326.8 420.2 L1328.2 418.8 L1329.6 417.4 L1331 416 L1332.4 414.6 L1333.9 413.2 L1335.3 411.8 L1336.8 410.5 L1338.2 409.1 L1339.7 407.7 L1341.1 406.4 L1342.6 405 L1344 403.6 L1345.5 402.3 L1347 400.9 L1348.5 399.6 L1349.9 398.2 L1351.4 396.9 L1352.9 395.6 L1354.4 394.2 L1355.9 392.9 L1357.4 391.6 L1358.9 390.3 L1360.4 388.9 L1361.9 387.6 L1363.4 386.3 L1365 385 L1366.5 383.7 L1368 382.4 L1369.5 381.1 L1371 379.8 L1372.6 378.5 L1374.1 377.1 L1375.6 375.8 L1377.2 374.5 L1378.7 373.2 L1380.2 371.9 L1381.8 370.6 L1383.3 369.3 L1384.8 368 L1386.4 366.7 L1387.9 365.4 L1389.4 364.2 L1391 362.9 L1392.5 361.6 L1394.1 360.3 L1395.6 359 L1397.1 357.7 L1398.7 356.4 L1400.2 355.1 L1401.8 353.8 L1403.3 352.5 L1404.8 351.2 L1406.4 349.8 L1407.9 348.5 L1409.4 347.2 L1411 345.9 L1412.5 344.6 L1414 343.3 L1415.6 342 L1417.1 340.7 L1418.6 339.3 L1420.1 338 L1421.6 336.7 L1423.2 335.4 L1424.7 334.1 L1426.2 332.7 L1427.7 331.4 L1429.2 330.1 L1430.7 328.7 L1432.2 327.4 L1433.7 326 L1435.2 324.7 L1436.7 323.4 L1438.2 322 L1439.7 320.7 L1441.2 319.3 L1442.7 318 L1444.2 316.6 L1445.7 315.2 L1447.1 313.9 L1448.6 312.5 L1450.1 311.1 L1451.5 309.8 L1453 308.4 L1454.4 307 L1455.9 305.6 L1457.3 304.2 L1458.8 302.8 L1460.2 301.4 L1461.7 300 L1463.1 298.6 L1464.5 297.2 L1465.9 295.8 L1467.3 294.4 L1468.8 293 L1470.2 291.6 L1471.6 290.1 L1473 288.7 L1474.3 287.3 L1475.7 285.8 L1477.1 284.4 L1478.5 282.9 L1479.8 281.5 L1481.2 280 L1482.6 278.6 L1483.9 277.1 L1485.3 275.6 L1486.6 274.2 L1487.9 272.7 L1489.2 271.2 L1490.6 269.7 L1491.9 268.2 L1493.2 266.7 L1494.5 265.2 L1495.8 263.7 L1497.1 262.2 L1498.3 260.6 L1499.6 259.1 L1500.9 257.6 L1502.1 256 L1503.4 254.5 L1504.6 252.9 L1505.8 251.4 L1507.1 249.8 L1508.3 248.3 L1509.5 246.7 L1510.7 245.1 L1511.9 243.5 L1513.1 241.9 L1514.2 240.3 L1515.4 238.7 L1516.6 237.1 L1517.7 235.5 L1518.9 233.9 L1520 232.2 L1521.1 230.6 L1522.2 229 L1523.3 227.3 L1524.4 225.6 L1525.5 224 L1526.6 222.3 L1527.7 220.6 L1528.7 218.9 L1529.8 217.3 L1530.8 215.6 L1531.8 213.8 L1532.9 212.1 L1533.9 210.4 L1534.9 208.7 L1535.9 206.9 L1536.8 205.2 L1537.8 203.5 L1538.8 201.7 L1539.7 199.9 L1540.7 198.2 L1541.6 196.4 L1542.5 194.6 L1543.4 192.8 L1544.4 191 L1545.3 189.2 L1546.2 187.4 L1547 185.6 L1547.9 183.8 L1548.8 181.9 L1549.7 180.1 L1550.5 178.3 L1551.4 176.5 L1552.2 174.6 L1553.1 172.8 L1553.9 170.9 L1554.7 169.1 L1555.5 167.2 L1556.4 165.3 L1557.2 163.5 L1558 161.6 L1558.8 159.7 L1559.6 157.9 L1560.4 156 L1561.2 154.1 L1562 152.2 L1562.8 150.3 L1563.6 148.5 L1564.3 146.6 L1565.1 144.7 L1565.9 142.8 L1566.7 140.9 L1567.4 139 L1568.2 137.1 L1569 135.2 L1569.8 133.3 L1570.5 131.4 L1571.3 129.5 L1572.1 127.6 L1572.8 125.7 L1573.6 123.8 L1574.4 121.9 L1575.1 120 L1575.9 118.2 L1576.7 116.3 L1577.5 114.4 L1578.2 112.5 L1579 110.6 L1579.8 108.7 L1580.6 106.8 L1581.3 104.9 L1582.1 103 L1582.9 101.1 L1583.7 99.3 L1584.5 97.4 L1585.3 95.5 L1586.1 93.6 L1586.9 91.8 L1587.7 89.9 L1588.5 88 L1589.3 86.2 L1590.2 84.3 L1591 82.5 L1591.8 80.6 L1592.6 78.8 L1593.5 77 L1594.3 75.1 L1595.2 73.3 L1596.1 71.5 L1596.9 69.6 L1597.8 67.8 L1598.7 66 L1599.6 64.2 L1600.5 62.4 L1601.4 60.6 L1602.3 58.8 L1603.2 57.1 L1604.1 55.3 L1605.1 53.5 L1606 51.8 L1607 50 L1607.9 48.3 L1608.9 46.5 L1609.9 44.8 L1610.9 43.1 L1611.9 41.3 L1612.9 39.6 L1613.9 37.9 L1615 36.2 L1616 34.6 L1617.1 32.9 L1618.1 31.2 L1619.2 29.6 L1620.3 27.9 L1621.4 26.3 L1622.5 24.6 L1623.7 23 L1624.8 21.4" fill="none" stroke="#e0261b" stroke-width="4.5" stroke-linejoin="round" stroke-linecap="round"/>
<path d="M1193.7 618.2 L1194.9 616.6 L1196.1 615 L1197.3 613.4 L1198.5 611.8 L1199.6 610.2 L1200.8 608.6 L1201.9 607 L1203.1 605.4 L1204.2 603.8 L1205.4 602.1 L1206.5 600.5 L1207.6 598.9 L1208.7 597.2 L1209.8 595.5 L1210.9 593.9 L1212 592.2 L1213.1 590.5 L1214.2 588.9 L1215.3 587.2 L1216.4 585.5 L1217.5 583.8 L1218.6 582.1 L1219.6 580.4 L1220.7 578.7 L1221.8 577 L1222.8 575.3 L1223.9 573.6 L1224.9 571.8 L1226 570.1 L1227 568.4 L1228.1 566.7 L1229.1 564.9 L1230.2 563.2 L1231.2 561.5 L1232.2 559.7 L1233.3 558 L1234.3 556.3 L1235.3 554.5 L1236.4 552.8 L1237.4 551 L1238.4 549.3 L1239.5 547.5 L1240.5 545.8 L1241.5 544 L1242.6 542.3 L1243.6 540.5 L1244.6 538.8 L1245.7 537 L1246.7 535.3 L1247.7 533.5 L1248.7 531.8 L1249.8 530 L1250.8 528.3 L1251.9 526.6 L1252.9 524.8 L1253.9 523.1 L1255 521.3 L1256 519.6 L1257.1 517.8 L1258.1 516.1 L1259.2 514.4 L1260.2 512.6 L1261.3 510.9 L1262.3 509.2 L1263.4 507.5 L1264.5 505.7 L1265.5 504 L1266.6 502.3 L1267.7 500.6 L1268.8 498.9 L1269.9 497.2 L1271 495.5 L1272.1 493.8 L1273.2 492.1 L1274.3 490.4 L1275.4 488.8 L1276.5 487.1 L1277.6 485.4 L1278.7 483.7 L1279.9 482.1 L1281 480.4 L1282.2 478.8 L1283.3 477.1 L1284.5 475.5 L1285.6 473.9 L1286.8 472.2 L1288 470.6 L1289.2 469 L1290.4 467.4 L1291.6 465.8 L1292.8 464.2 L1294 462.6 L1295.2 461.1 L1296.5 459.5 L1297.7 457.9 L1299 456.4 L1300.2 454.8 L1301.5 453.3 L1302.8 451.8 L1304 450.3 L1305.3 448.7 L1306.6 447.2 L1307.9 445.7 L1309.2 444.2 L1310.6 442.8 L1311.9 441.3 L1313.2 439.8 L1314.6 438.3 L1315.9 436.9 L1317.3 435.4 L1318.6 434 L1320 432.5 L1321.4 431.1 L1322.8 429.7 L1324.1 428.2 L1325.5 426.8 L1326.9 425.4 L1328.3 424 L1329.8 422.6 L1331.2 421.2 L1332.6 419.8 L1334 418.4 L1335.5 417 L1336.9 415.7 L1338.3 414.3 L1339.8 412.9 L1341.2 411.6 L1342.7 410.2 L1344.1 408.8 L1345.6 407.5 L1347.1 406.1 L1348.6 404.8 L1350 403.4 L1351.5 402.1 L1353 400.8 L1354.5 399.4 L1356 398.1 L1357.5 396.8 L1359 395.5 L1360.5 394.1 L1362 392.8 L1363.5 391.5 L1365 390.2 L1366.5 388.9 L1368 387.6 L1369.5 386.3 L1371.1 385 L1372.6 383.6 L1374.1 382.3 L1375.6 381 L1377.2 379.7 L1378.7 378.4 L1380.2 377.1 L1381.7 375.8 L1383.3 374.6 L1384.8 373.3 L1386.3 372 L1387.9 370.7 L1389.4 369.4 L1391 368.1 L1392.5 366.8 L1394 365.5 L1395.6 364.2 L1397.1 362.9 L1398.7 361.6 L1400.2 360.3 L1401.7 359 L1403.3 357.7 L1404.8 356.4 L1406.3 355.1 L1407.9 353.8 L1409.4 352.5 L1411 351.2 L1412.5 349.9 L1414 348.6 L1415.6 347.3 L1417.1 346 L1418.6 344.7 L1420.1 343.4 L1421.7 342.1 L1423.2 340.8 L1424.7 339.5 L1426.2 338.1 L1427.8 336.8 L1429.3 335.5 L1430.8 334.2 L1432.3 332.8 L1433.8 331.5 L1435.3 330.2 L1436.8 328.9 L1438.3 327.5 L1439.8 326.2 L1441.3 324.8 L1442.8 323.5 L1444.3 322.2 L1445.8 320.8 L1447.3 319.5 L1448.8 318.1 L1450.3 316.8 L1451.7 315.4 L1453.2 314 L1454.7 312.7 L1456.1 311.3 L1457.6 309.9 L1459.1 308.6 L1460.5 307.2 L1462 305.8 L1463.4 304.4 L1464.8 303 L1466.3 301.6 L1467.7 300.2 L1469.1 298.8 L1470.6 297.4 L1472 296 L1473.4 294.6 L1474.8 293.2 L1476.2 291.8 L1477.6 290.3 L1479 288.9 L1480.4 287.5 L1481.7 286 L1483.1 284.6 L1484.5 283.2 L1485.8 281.7 L1487.2 280.2 L1488.6 278.8 L1489.9 277.3 L1491.2 275.9 L1492.6 274.4 L1493.9 272.9 L1495.2 271.4 L1496.5 269.9 L1497.8 268.4 L1499.1 266.9 L1500.4 265.4 L1501.7 263.9 L1503 262.4 L1504.3 260.9 L1505.5 259.3 L1506.8 257.8 L1508 256.3 L1509.3 254.7 L1510.5 253.2 L1511.7 251.6 L1512.9 250 L1514.2 248.5 L1515.4 246.9 L1516.5 245.3 L1517.7 243.7 L1518.9 242.1 L1520.1 240.5 L1521.2 238.9 L1522.4 237.3 L1523.5 235.7 L1524.7 234.1 L1525.8 232.4 L1526.9 230.8 L1528 229.2 L1529.1 227.5 L1530.2 225.8 L1531.3 224.2 L1532.3 222.5 L1533.4 220.8 L1534.5 219.1 L1535.5 217.4 L1536.5 215.7 L1537.5 214 L1538.6 212.3 L1539.6 210.6 L1540.5 208.8 L1541.5 207.1 L1542.5 205.3 L1543.5 203.6 L1544.4 201.8 L1545.4 200.1 L1546.3 198.3 L1547.2 196.5 L1548.1 194.7 L1549.1 192.9 L1550 191.1 L1550.9 189.3 L1551.7 187.5 L1552.6 185.7 L1553.5 183.9 L1554.4 182.1 L1555.2 180.2 L1556.1 178.4 L1556.9 176.6 L1557.8 174.7 L1558.6 172.9 L1559.5 171 L1560.3 169.2 L1561.1 167.3 L1561.9 165.5 L1562.7 163.6 L1563.6 161.7 L1564.4 159.9 L1565.2 158 L1566 156.1 L1566.8 154.2 L1567.5 152.3 L1568.3 150.5 L1569.1 148.6 L1569.9 146.7 L1570.7 144.8 L1571.5 142.9 L1572.2 141 L1573 139.1 L1573.8 137.2 L1574.6 135.4 L1575.3 133.5 L1576.1 131.6 L1576.9 129.7 L1577.6 127.8 L1578.4 125.9 L1579.2 124 L1579.9 122.1 L1580.7 120.2 L1581.5 118.3 L1582.3 116.4 L1583 114.5 L1583.8 112.6 L1584.6 110.7 L1585.3 108.9 L1586.1 107 L1586.9 105.1 L1587.7 103.2 L1588.5 101.3 L1589.3 99.4 L1590 97.6 L1590.8 95.7 L1591.6 93.8 L1592.4 91.9 L1593.2 90.1 L1594 88.2 L1594.9 86.4 L1595.7 84.5 L1596.5 82.7 L1597.3 80.8 L1598.1 79 L1599 77.1 L1599.8 75.3 L1600.7 73.5 L1601.5 71.6 L1602.4 69.8 L1603.2 68 L1604.1 66.2 L1605 64.4 L1605.9 62.6 L1606.8 60.8 L1607.7 59 L1608.6 57.2 L1609.5 55.4 L1610.4 53.7 L1611.3 51.9 L1612.3 50.1 L1613.2 48.4 L1614.2 46.6 L1615.1 44.9 L1616.1 43.2 L1617.1 41.4 L1618.1 39.7 L1619.1 38 L1620.1 36.3 L1621.1 34.6 L1622.2 32.9 L1623.2 31.3 L1624.3 29.6 L1625.3 27.9 L1626.4 26.3 L1627.5 24.6 L1628.6 23 L1629.7 21.4" fill="none" stroke="#3a2898" stroke-width="4.5" stroke-linejoin="round" stroke-linecap="round"/>
<path d="M1193.4 22.7 L1193.3 24.7 L1193.3 26.8 L1193.3 28.8 L1193.2 30.9 L1193.2 32.9 L1193.2 34.9 L1193.2 37 L1193.2 39 L1193.2 41.1 L1193.2 43.1 L1193.3 45.1 L1193.3 47.1 L1193.3 49.2 L1193.3 51.2 L1193.4 53.2 L1193.4 55.2 L1193.4 57.3 L1193.5 59.3 L1193.5 61.3 L1193.6 63.3 L1193.6 65.3 L1193.7 67.3 L1193.7 69.3 L1193.8 71.3 L1193.9 73.3 L1193.9 75.3 L1194 77.3 L1194.1 79.3 L1194.2 81.3 L1194.3 83.3 L1194.4 85.3 L1194.4 87.3 L1194.5 89.3 L1194.6 91.3 L1194.7 93.3 L1194.8 95.3 L1194.9 97.3 L1195 99.3 L1195.1 101.3 L1195.2 103.3 L1195.4 105.3 L1195.5 107.3 L1195.6 109.2 L1195.7 111.2 L1195.8 113.2 L1195.9 115.2 L1196.1 117.2 L1196.2 119.2 L1196.3 121.2 L1196.4 123.1 L1196.6 125.1 L1196.7 127.1 L1196.8 129.1 L1196.9 131.1 L1197.1 133.1 L1197.2 135 L1197.3 137 L1197.5 139 L1197.6 141 L1197.7 143 L1197.9 145 L1198 147 L1198.1 148.9 L1198.3 150.9 L1198.4 152.9 L1198.6 154.9 L1198.7 156.9 L1198.8 158.9 L1199 160.9 L1199.1 162.8 L1199.2 164.8 L1199.4 166.8 L1199.5 168.8 L1199.6 170.8 L1199.8 172.8 L1199.9 174.8 L1200 176.8 L1200.1 178.8 L1200.3 180.8 L1200.4 182.8 L1200.5 184.8 L1200.7 186.8 L1200.8 188.8 L1200.9 190.8 L1201 192.8 L1201.1 194.8 L1201.3 196.8 L1201.4 198.8 L1201.5 200.8 L1201.6 202.8 L1201.7 204.8 L1201.8 206.8 L1201.9 208.8 L1202 210.9 L1202.1 212.9 L1202.2 214.9 L1202.3 216.9 L1202.4 219 L1202.5 221 L1202.6 223 L1202.7 225 L1202.7 227.1 L1202.8 229.1 L1202.9 231.1 L1203 233.2 L1203.1 235.2 L1203.1 237.2 L1203.2 239.3 L1203.3 241.3 L1203.4 243.4 L1203.5 245.4 L1203.5 247.4 L1203.6 249.5 L1203.7 251.5 L1203.8 253.6 L1203.9 255.6 L1204 257.6 L1204.1 259.7 L1204.2 261.7 L1204.3 263.8 L1204.4 265.8 L1204.6 267.8 L1204.7 269.9 L1204.8 271.9 L1205 273.9 L1205.1 275.9 L1205.3 278 L1205.4 280 L1205.6 282 L1205.8 284 L1206 286 L1206.2 288 L1206.4 290.1 L1206.6 292.1 L1206.9 294.1 L1207.1 296.1 L1207.4 298.1 L1207.6 300 L1207.9 302 L1208.2 304 L1208.5 306 L1208.8 308 L1209.1 309.9 L1209.5 311.9 L1209.8 313.8 L1210.2 315.8 L1210.6 317.8 L1211 319.7 L1211.4 321.6 L1211.9 323.6 L1212.3 325.5 L1212.8 327.4 L1213.3 329.3 L1213.8 331.2 L1214.3 333.1 L1214.9 335 L1215.5 336.9 L1216 338.8 L1216.6 340.7 L1217.3 342.5 L1217.9 344.4 L1218.6 346.2 L1219.3 348.1 L1220 349.9 L1220.7 351.7 L1221.5 353.6 L1222.2 355.4 L1223 357.2 L1223.8 359 L1224.6 360.8 L1225.5 362.6 L1226.3 364.4 L1227.2 366.1 L1228.1 367.9 L1229 369.7 L1229.9 371.4 L1230.9 373.2 L1231.8 374.9 L1232.8 376.7 L1233.7 378.4 L1234.7 380.1 L1235.7 381.9 L1236.7 383.6 L1237.8 385.3 L1238.8 387 L1239.9 388.8 L1240.9 390.5 L1242 392.2 L1243.1 393.9 L1244.1 395.6 L1245.2 397.3 L1246.3 399 L1247.4 400.7 L1248.5 402.4 L1249.7 404.1 L1250.8 405.7 L1251.9 407.4 L1253.1 409.1 L1254.2 410.8 L1255.3 412.5 L1256.5 414.2 L1257.6 415.8 L1258.8 417.5 L1260 419.2 L1261.1 420.9 L1262.3 422.5 L1263.4 424.2 L1264.6 425.9 L1265.8 427.6 L1266.9 429.3 L1268.1 431 L1269.2 432.6 L1270.4 434.3 L1271.5 436 L1272.7 437.7 L1273.9 439.4 L1275 441 L1276.2 442.7 L1277.4 444.4 L1278.5 446 L1279.7 447.6 L1280.9 449.3 L1282.2 450.9 L1283.4 452.4 L1284.6 454 L1285.9 455.5 L1287.2 457 L1288.5 458.5 L1289.8 460 L1291.2 461.4 L1292.6 462.8 L1294 464.1 L1295.4 465.4 L1296.9 466.7 L1298.4 467.9 L1299.9 469.1 L1301.5 470.3 L1303 471.5 L1304.6 472.6 L1306.2 473.7 L1307.9 474.7 L1309.5 475.8 L1311.2 476.8 L1312.9 477.8 L1314.6 478.7 L1316.3 479.7 L1318.1 480.6 L1319.8 481.4 L1321.6 482.3 L1323.4 483.2 L1325.2 484 L1327 484.8 L1328.8 485.6 L1330.7 486.4 L1332.5 487.1 L1334.4 487.9 L1336.3 488.6 L1338.1 489.3 L1340 490 L1341.9 490.7 L1343.8 491.4 L1345.7 492.1 L1347.6 492.8 L1349.5 493.5 L1351.5 494.1 L1353.4 494.8 L1355.3 495.4 L1357.2 496.1 L1359.1 496.7 L1361.1 497.4 L1363 498 L1364.9 498.7 L1366.8 499.3 L1368.7 500 L1370.6 500.7 L1372.5 501.4 L1374.4 502 L1376.3 502.7 L1378.2 503.5 L1380.1 504.2 L1382 504.9 L1383.8 505.7 L1385.7 506.4 L1387.5 507.2 L1389.3 508 L1391.2 508.9 L1393 509.7 L1394.8 510.6 L1396.5 511.5 L1398.3 512.4 L1400.1 513.3 L1401.8 514.3 L1403.5 515.3 L1405.2 516.3 L1406.9 517.3 L1408.6 518.4 L1410.3 519.5 L1411.9 520.6 L1413.6 521.7 L1415.2 522.8 L1416.9 524 L1418.5 525.1 L1420.1 526.3 L1421.7 527.5 L1423.4 528.7 L1425 529.8 L1426.6 531 L1428.2 532.2 L1429.8 533.4 L1431.4 534.6 L1433.1 535.8 L1434.7 537 L1436.3 538.1 L1437.9 539.3 L1439.6 540.5 L1441.2 541.6 L1442.9 542.8 L1444.5 543.9 L1446.2 545 L1447.9 546.1 L1449.5 547.2 L1451.2 548.3 L1452.9 549.4 L1454.6 550.4 L1456.3 551.5 L1458 552.6 L1459.7 553.6 L1461.4 554.6 L1463.2 555.6 L1464.9 556.7 L1466.6 557.7 L1468.4 558.7 L1470.1 559.6 L1471.9 560.6 L1473.6 561.6 L1475.4 562.5 L1477.1 563.5 L1478.9 564.4 L1480.7 565.4 L1482.5 566.3 L1484.2 567.2 L1486 568.1 L1487.8 569 L1489.6 569.9 L1491.4 570.8 L1493.2 571.6 L1495.1 572.5 L1496.9 573.4 L1498.7 574.2 L1500.5 575.1 L1502.4 575.9 L1504.2 576.7 L1506 577.5 L1507.9 578.3 L1509.7 579.1 L1511.6 579.9 L1513.4 580.7 L1515.3 581.5 L1517.1 582.3 L1519 583 L1520.9 583.8 L1522.7 584.5 L1524.6 585.3 L1526.5 586 L1528.4 586.7 L1530.3 587.4 L1532.1 588.2 L1534 588.9 L1535.9 589.6 L1537.8 590.3 L1539.7 590.9 L1541.6 591.6 L1543.5 592.3 L1545.4 593 L1547.3 593.6 L1549.2 594.3 L1551.2 594.9 L1553.1 595.5 L1555 596.2 L1556.9 596.8 L1558.8 597.4 L1560.7 598 L1562.7 598.6 L1564.6 599.3 L1566.5 599.8 L1568.4 600.4 L1570.4 601 L1572.3 601.6 L1574.2 602.2 L1576.2 602.7 L1578.1 603.3 L1580 603.9 L1582 604.4 L1583.9 605 L1585.9 605.5 L1587.8 606 L1589.7 606.6 L1591.7 607.1 L1593.6 607.6 L1595.6 608.1 L1597.5 608.6 L1599.5 609.1 L1601.4 609.6 L1603.3 610.1 L1605.3 610.6 L1607.2 611.1 L1609.2 611.6 L1611.1 612.1 L1613.1 612.5 L1615 613 L1617 613.5 L1618.9 613.9 L1620.8 614.4 L1622.8 614.8 L1624.7 615.3 L1626.7 615.7 L1628.6 616.2 L1630.6 616.6 L1632.5 617 L1634.4 617.5 L1636.4 617.9 L1638.3 618.3 L1640.2 618.7" fill="none" stroke="#e0261b" stroke-width="4.5" stroke-linejoin="round" stroke-linecap="round"/>
</g>
<rect x="1193.3" y="22.6" width="813.4" height="597.6" fill="none" stroke="#111" stroke-width="2.8"/>
<line x1="1319" y1="620.2" x2="1319" y2="601.2" stroke="#111" stroke-width="2.7"/>
<line x1="1444.7" y1="620.2" x2="1444.7" y2="601.2" stroke="#111" stroke-width="2.7"/>
<line x1="1570.4" y1="620.2" x2="1570.4" y2="601.2" stroke="#111" stroke-width="2.7"/>
<line x1="1696.1" y1="620.2" x2="1696.1" y2="601.2" stroke="#111" stroke-width="2.7"/>
<line x1="1821.8" y1="620.2" x2="1821.8" y2="601.2" stroke="#111" stroke-width="2.7"/>
<line x1="1947.5" y1="620.2" x2="1947.5" y2="601.2" stroke="#111" stroke-width="2.7"/>
<line x1="1193.3" y1="520.7" x2="1207.3" y2="520.7" stroke="#111" stroke-width="2.7"/>
<line x1="1193.3" y1="420.9" x2="1207.3" y2="420.9" stroke="#111" stroke-width="2.7"/>
<line x1="1193.3" y1="321.1" x2="1207.3" y2="321.1" stroke="#111" stroke-width="2.7"/>
<line x1="1193.3" y1="221.3" x2="1207.3" y2="221.3" stroke="#111" stroke-width="2.7"/>
<line x1="1193.3" y1="121.5" x2="1207.3" y2="121.5" stroke="#111" stroke-width="2.7"/>
<text transform="translate(1183.5 36.6) scale(0.950 1)" font-size="44" text-anchor="end">3.0</text>
<text transform="translate(1183.7 136.3) scale(0.950 1)" font-size="44" text-anchor="end">2.5</text>
<text transform="translate(1183.5 235.9) scale(0.950 1)" font-size="44" text-anchor="end">2.0</text>
<text transform="translate(1183.7 335.5) scale(0.950 1)" font-size="44" text-anchor="end">1.5</text>
<text transform="translate(1183.5 435.2) scale(0.950 1)" font-size="44" text-anchor="end">1.0</text>
<text transform="translate(1183.7 534.8) scale(0.950 1)" font-size="44" text-anchor="end">0.5</text>
<text transform="translate(1183.5 634.4) scale(0.950 1)" font-size="44" text-anchor="end">0.0</text>
<text transform="translate(1193.3 666.1) scale(0.950 1)" font-size="44" text-anchor="middle">0</text>
<text transform="translate(1319 666.1) scale(0.950 1)" font-size="44" text-anchor="middle">200</text>
<text transform="translate(1444.7 666.1) scale(0.950 1)" font-size="44" text-anchor="middle">400</text>
<text transform="translate(1570.4 666.1) scale(0.950 1)" font-size="44" text-anchor="middle">600</text>
<text transform="translate(1696.1 666.1) scale(0.950 1)" font-size="44" text-anchor="middle">800</text>
<text transform="translate(1821.8 666.1) scale(0.950 1)" font-size="44" text-anchor="middle">1000</text>
<text transform="translate(1947.5 666.1) scale(0.950 1)" font-size="44" text-anchor="middle">1200</text>
<text transform="translate(1599 724.4) scale(0.950 1)" font-size="44" text-anchor="middle">Capacity (mAh g<tspan font-size="31" dy="-15">−1</tspan><tspan dy="15">)</tspan></text>
<text transform="translate(1117 322) rotate(-90) scale(0.950 1)" font-size="44" text-anchor="middle">Voltage (V) vs. Li/Li<tspan font-size="31" dy="-15">+</tspan></text>
<text transform="translate(1221.5 70.2)" font-size="50" font-weight="bold">(b)</text>
<line x1="1819" y1="127.6" x2="1874" y2="127.6" stroke="#121212" stroke-width="4.6"/>
<text transform="translate(1878 140.1) scale(0.950 1)" font-size="44" font-weight="bold">1 st</text>
<line x1="1819" y1="178.6" x2="1874" y2="178.6" stroke="#3a2898" stroke-width="4.6"/>
<text transform="translate(1878 192.1) scale(0.950 1)" font-size="44" font-weight="bold">2 nd</text>
<line x1="1819" y1="229.6" x2="1874" y2="229.6" stroke="#e0261b" stroke-width="4.6"/>
<text transform="translate(1878 244.1) scale(0.950 1)" font-size="44" font-weight="bold">3 th</text>
<g clip-path="url(#cc)">
<path d="M164.6 855.2 L170 1015.9 L175.3 1026.5" fill="none" stroke="#121212" stroke-width="3" stroke-linejoin="round" stroke-linecap="round"/>
<rect x="158.1" y="848.7" width="13" height="13" fill="#121212"/>
<rect x="163.5" y="1009.4" width="13" height="13" fill="#121212"/>
<path d="M170.8 1026.3 C175.3 1026.8 188.1 1026.6 198 1029.5 C207.9 1032.4 219.3 1039.9 230 1043.9 C240.7 1047.9 252.7 1051.1 262 1053.5 C271.3 1055.9 277.9 1057.5 285.9 1058.3 C293.9 1059.1 297.9 1058.8 309.9 1058.3 C321.9 1057.8 341.9 1056.2 357.9 1055.1 C373.9 1054 392.2 1053.3 405.9 1051.9 C419.6 1050.5 428.2 1049.2 440 1046.7 C451.8 1044.2 466.8 1037.8 476.7 1036.8 C486.6 1035.8 488.9 1041 499.3 1040.5 C509.7 1040 526.6 1036 538.9 1034 C551.1 1032 563.8 1030.2 572.8 1028.3 C581.8 1026.4 587.4 1023.2 592.6 1022.7 C597.8 1022.2 599.2 1026.5 603.9 1025.5 C608.6 1024.5 615.1 1017 620.8 1016.5 C626.4 1016 632.1 1022.9 637.8 1022.7 C643.4 1022.6 648.6 1016.8 654.7 1015.6 C660.8 1014.4 667.9 1016.8 674.5 1015.6 C681.1 1014.4 681.6 1012 694.3 1008.5 C707 1005 732 999.1 750.8 994.4 C769.6 989.7 788.5 985.5 807.3 980.3 C826.1 975.1 845 968.7 863.8 963.3 C882.6 957.9 903.3 951.6 920.3 947.8 C937.3 943.9 958.4 941.5 966 940.2" fill="none" stroke="#121212" stroke-width="13" stroke-linejoin="round" stroke-linecap="round" stroke-linecap="butt"/>
<path d="M164.6 863.2 L170 1144.3 L175.3 1185.6 L180.7 1208.3 L186.1 1223.5 L191.5 1233.9" fill="none" stroke="#dc2c1c" stroke-width="2.6" stroke-linejoin="round" stroke-linecap="round"/>
<circle cx="164.6" cy="863.2" r="7.2" fill="#dc2c1c"/>
<circle cx="170" cy="1144.3" r="7.2" fill="#dc2c1c"/>
<circle cx="175.3" cy="1185.6" r="7.2" fill="#dc2c1c"/>
<circle cx="180.7" cy="1208.3" r="7.2" fill="#dc2c1c"/>
<circle cx="186.1" cy="1223.5" r="7.2" fill="#dc2c1c"/>
<circle cx="191.5" cy="1233.9" r="7.2" fill="#dc2c1c"/>
<path d="M191.5 1233.9 C192.6 1235.2 194.2 1237.9 198 1241.9 C201.8 1245.9 207.3 1253.4 214 1257.9 C220.7 1262.4 228.7 1265.9 238 1269.1 C247.3 1272.3 258 1274.7 270 1277.1 C282 1279.5 295.2 1281.6 309.9 1283.5 C324.5 1285.4 341.9 1287 357.9 1288.3 C373.9 1289.6 392.2 1290.8 405.9 1291.5 C419.6 1292.2 417.5 1292.1 440 1292.6 C462.5 1293.1 507.4 1294 541 1294.6 C574.6 1295.2 596 1295.6 641.5 1296.4 C687 1297.2 760 1298.5 814.2 1299.3 C868.4 1300.1 941.1 1301 966.5 1301.3" fill="none" stroke="#dc2c1c" stroke-width="13.5" stroke-linejoin="round" stroke-linecap="round"/>
</g>
<rect x="158.8" y="790.4" width="807.8" height="607.7" fill="none" stroke="#111" stroke-width="2.8"/>
<line x1="320.6" y1="1398.1" x2="320.6" y2="1379.1" stroke="#111" stroke-width="2.7"/>
<line x1="482" y1="1398.1" x2="482" y2="1379.1" stroke="#111" stroke-width="2.7"/>
<line x1="643.4" y1="1398.1" x2="643.4" y2="1379.1" stroke="#111" stroke-width="2.7"/>
<line x1="804.8" y1="1398.1" x2="804.8" y2="1379.1" stroke="#111" stroke-width="2.7"/>
<line x1="158.8" y1="832" x2="173.8" y2="832" stroke="#111" stroke-width="2.7"/>
<line x1="158.8" y1="912.9" x2="173.8" y2="912.9" stroke="#111" stroke-width="2.7"/>
<line x1="158.8" y1="993.7" x2="173.8" y2="993.7" stroke="#111" stroke-width="2.7"/>
<line x1="158.8" y1="1074.6" x2="173.8" y2="1074.6" stroke="#111" stroke-width="2.7"/>
<line x1="158.8" y1="1155.5" x2="173.8" y2="1155.5" stroke="#111" stroke-width="2.7"/>
<line x1="158.8" y1="1236.3" x2="173.8" y2="1236.3" stroke="#111" stroke-width="2.7"/>
<line x1="158.8" y1="1317.2" x2="173.8" y2="1317.2" stroke="#111" stroke-width="2.7"/>
<text transform="translate(150.6 845.1) scale(0.950 1)" font-size="44" text-anchor="end">1200</text>
<text transform="translate(150.6 926.6) scale(0.950 1)" font-size="44" text-anchor="end">1000</text>
<text transform="translate(150.6 1008) scale(0.950 1)" font-size="44" text-anchor="end">800</text>
<text transform="translate(150.6 1089.5) scale(0.950 1)" font-size="44" text-anchor="end">600</text>
<text transform="translate(150.6 1170.9) scale(0.950 1)" font-size="44" text-anchor="end">400</text>
<text transform="translate(150.6 1252.3) scale(0.950 1)" font-size="44" text-anchor="end">200</text>
<text transform="translate(150.6 1333.8) scale(0.950 1)" font-size="44" text-anchor="end">0</text>
<text transform="translate(150.6 1415.2) scale(0.950 1)" font-size="44" text-anchor="end">200</text>
<text transform="translate(46.6 1415.2) scale(1.347 1)" font-size="44">−</text>
<text transform="translate(159.2 1447.1) scale(0.950 1)" font-size="44" text-anchor="middle">0</text>
<text transform="translate(320.6 1447.1) scale(0.950 1)" font-size="44" text-anchor="middle">30</text>
<text transform="translate(482 1447.1) scale(0.950 1)" font-size="44" text-anchor="middle">60</text>
<text transform="translate(643.4 1447.1) scale(0.950 1)" font-size="44" text-anchor="middle">90</text>
<text transform="translate(804.8 1447.1) scale(0.950 1)" font-size="44" text-anchor="middle">120</text>
<text transform="translate(966.2 1447.1) scale(0.950 1)" font-size="44" text-anchor="middle">150</text>
<text transform="translate(564 1494.5) scale(0.950 1)" font-size="44" text-anchor="middle">Cycle number</text>
<text transform="translate(42 1097) rotate(-90) scale(0.950 1)" font-size="44" text-anchor="middle">Capacity (mAh g<tspan font-size="31" dy="-15">−1</tspan><tspan dy="15">)</tspan></text>
<text transform="translate(183.6 834.2)" font-size="50" font-weight="bold">(c)</text>
<text transform="translate(200 1004.1) scale(0.950 1)" font-size="44" font-weight="bold">MnO/CoMn<tspan font-size="31" dy="6">2</tspan><tspan dy="-6">O</tspan><tspan font-size="31" dy="6">4</tspan><tspan dy="-6"><tspan font-weight="normal">⊂</tspan>GN</tspan></text>
<text transform="translate(317 1262.1) scale(0.950 1)" font-size="44" font-weight="bold">CoMn<tspan font-size="31" dy="6">2</tspan><tspan dy="-6">O</tspan><tspan font-size="31" dy="6">4</tspan></text>
<text transform="translate(176 1370.8) scale(0.980 1)" font-size="43" font-weight="bold">0.1 A g<tspan font-size="31" dy="-13.5">−1</tspan></text>
<g clip-path="url(#cd)">
<line x1="1296.3" y1="789.6" x2="1296.3" y2="1401.2" stroke="#111" stroke-width="2.6" stroke-dasharray="12 8"/>
<line x1="1397.9" y1="789.6" x2="1397.9" y2="1401.2" stroke="#111" stroke-width="2.6" stroke-dasharray="12 8"/>
<line x1="1499.6" y1="789.6" x2="1499.6" y2="1401.2" stroke="#111" stroke-width="2.6" stroke-dasharray="12 8"/>
<line x1="1601.2" y1="954" x2="1601.2" y2="1401.2" stroke="#111" stroke-width="2.6" stroke-dasharray="12 8"/>
<line x1="1702.9" y1="954" x2="1702.9" y2="1401.2" stroke="#111" stroke-width="2.6" stroke-dasharray="12 8"/>
<line x1="1804.6" y1="954" x2="1804.6" y2="1401.2" stroke="#111" stroke-width="2.6" stroke-dasharray="12 8"/>
<line x1="1906.2" y1="954" x2="1906.2" y2="1401.2" stroke="#111" stroke-width="2.6" stroke-dasharray="12 8"/>
<path d="M1204.8 835.6 L1214.9 988.4 L1225.1 992.8 L1235.3 995.5 L1245.4 996.5 L1255.6 997 L1265.8 997 L1275.9 996.5 L1286.1 995 L1296.3 988.4 L1306.4 1000.4 L1316.6 1013.5 L1326.8 1015.7 L1336.9 1016.5 L1347.1 1017 L1357.3 1017 L1367.4 1017 L1377.6 1017 L1387.8 1017 L1397.9 1016.8 L1408.1 1030 L1418.3 1044.1 L1428.4 1046.3 L1438.6 1046.8 L1448.8 1047 L1458.9 1047 L1469.1 1047 L1479.2 1047.2 L1489.4 1047.4 L1499.6 1046.3 L1509.7 1061.6 L1519.9 1075.8 L1530.1 1079 L1540.2 1080 L1550.4 1080.5 L1560.6 1080.5 L1570.7 1080.5 L1580.9 1081 L1591.1 1081.3 L1601.2 1078.7 L1611.4 1084.3 L1621.6 1097.7 L1631.7 1098.8 L1641.9 1098.8 L1652.1 1098.8 L1662.2 1098.8 L1672.4 1101 L1682.6 1105.5 L1692.7 1101 L1702.9 1096.6 L1713.1 1105.5 L1723.2 1112.2 L1733.4 1116.7 L1743.6 1114.5 L1753.7 1114.5 L1763.9 1120.1 L1774.1 1113.4 L1784.2 1116.7 L1794.4 1119 L1804.6 1114.5 L1814.7 1122.3 L1824.9 1129 L1835.1 1130.1 L1845.2 1129 L1855.4 1127.9 L1865.6 1131.3 L1875.7 1133.5 L1885.9 1130.1 L1896.1 1130.1 L1906.2 1129 L1916.4 1064.1 L1926.6 981.3 L1936.7 974.6 L1946.9 972.3 L1957 971.2 L1967.2 970.1 L1977.4 969 L1987.5 966.7 L1997.7 965.6 L2007.9 964" fill="none" stroke="#1a1a1a" stroke-width="3" stroke-linejoin="round" stroke-linecap="round"/>
<rect x="1198.8" y="829.6" width="12" height="12" fill="#000"/>
<rect x="1208.9" y="982.4" width="12" height="12" fill="#000"/>
<rect x="1219.1" y="986.8" width="12" height="12" fill="#000"/>
<rect x="1229.3" y="989.5" width="12" height="12" fill="#000"/>
<rect x="1239.4" y="990.5" width="12" height="12" fill="#000"/>
<rect x="1249.6" y="991" width="12" height="12" fill="#000"/>
<rect x="1259.8" y="991" width="12" height="12" fill="#000"/>
<rect x="1269.9" y="990.5" width="12" height="12" fill="#000"/>
<rect x="1280.1" y="989" width="12" height="12" fill="#000"/>
<rect x="1290.3" y="982.4" width="12" height="12" fill="#000"/>
<rect x="1300.4" y="994.4" width="12" height="12" fill="#000"/>
<rect x="1310.6" y="1007.5" width="12" height="12" fill="#000"/>
<rect x="1320.8" y="1009.7" width="12" height="12" fill="#000"/>
<rect x="1330.9" y="1010.5" width="12" height="12" fill="#000"/>
<rect x="1341.1" y="1011" width="12" height="12" fill="#000"/>
<rect x="1351.3" y="1011" width="12" height="12" fill="#000"/>
<rect x="1361.4" y="1011" width="12" height="12" fill="#000"/>
<rect x="1371.6" y="1011" width="12" height="12" fill="#000"/>
<rect x="1381.8" y="1011" width="12" height="12" fill="#000"/>
<rect x="1391.9" y="1010.8" width="12" height="12" fill="#000"/>
<rect x="1402.1" y="1024" width="12" height="12" fill="#000"/>
<rect x="1412.3" y="1038.1" width="12" height="12" fill="#000"/>
<rect x="1422.4" y="1040.3" width="12" height="12" fill="#000"/>
<rect x="1432.6" y="1040.8" width="12" height="12" fill="#000"/>
<rect x="1442.8" y="1041" width="12" height="12" fill="#000"/>
<rect x="1452.9" y="1041" width="12" height="12" fill="#000"/>
<rect x="1463.1" y="1041" width="12" height="12" fill="#000"/>
<rect x="1473.2" y="1041.2" width="12" height="12" fill="#000"/>
<rect x="1483.4" y="1041.4" width="12" height="12" fill="#000"/>
<rect x="1493.6" y="1040.3" width="12" height="12" fill="#000"/>
<rect x="1503.7" y="1055.6" width="12" height="12" fill="#000"/>
<rect x="1513.9" y="1069.8" width="12" height="12" fill="#000"/>
<rect x="1524.1" y="1073" width="12" height="12" fill="#000"/>
<rect x="1534.2" y="1074" width="12" height="12" fill="#000"/>
<rect x="1544.4" y="1074.5" width="12" height="12" fill="#000"/>
<rect x="1554.6" y="1074.5" width="12" height="12" fill="#000"/>
<rect x="1564.7" y="1074.5" width="12" height="12" fill="#000"/>
<rect x="1574.9" y="1075" width="12" height="12" fill="#000"/>
<rect x="1585.1" y="1075.3" width="12" height="12" fill="#000"/>
<rect x="1595.2" y="1072.7" width="12" height="12" fill="#000"/>
<rect x="1605.4" y="1078.3" width="12" height="12" fill="#000"/>
<rect x="1615.6" y="1091.7" width="12" height="12" fill="#000"/>
<rect x="1625.7" y="1092.8" width="12" height="12" fill="#000"/>
<rect x="1635.9" y="1092.8" width="12" height="12" fill="#000"/>
<rect x="1646.1" y="1092.8" width="12" height="12" fill="#000"/>
<rect x="1656.2" y="1092.8" width="12" height="12" fill="#000"/>
<rect x="1666.4" y="1095" width="12" height="12" fill="#000"/>
<rect x="1676.6" y="1099.5" width="12" height="12" fill="#000"/>
<rect x="1686.7" y="1095" width="12" height="12" fill="#000"/>
<rect x="1696.9" y="1090.6" width="12" height="12" fill="#000"/>
<rect x="1707.1" y="1099.5" width="12" height="12" fill="#000"/>
<rect x="1717.2" y="1106.2" width="12" height="12" fill="#000"/>
<rect x="1727.4" y="1110.7" width="12" height="12" fill="#000"/>
<rect x="1737.6" y="1108.5" width="12" height="12" fill="#000"/>
<rect x="1747.7" y="1108.5" width="12" height="12" fill="#000"/>
<rect x="1757.9" y="1114.1" width="12" height="12" fill="#000"/>
<rect x="1768.1" y="1107.4" width="12" height="12" fill="#000"/>
<rect x="1778.2" y="1110.7" width="12" height="12" fill="#000"/>
<rect x="1788.4" y="1113" width="12" height="12" fill="#000"/>
<rect x="1798.6" y="1108.5" width="12" height="12" fill="#000"/>
<rect x="1808.7" y="1116.3" width="12" height="12" fill="#000"/>
<rect x="1818.9" y="1123" width="12" height="12" fill="#000"/>
<rect x="1829.1" y="1124.1" width="12" height="12" fill="#000"/>
<rect x="1839.2" y="1123" width="12" height="12" fill="#000"/>
<rect x="1849.4" y="1121.9" width="12" height="12" fill="#000"/>
<rect x="1859.6" y="1125.3" width="12" height="12" fill="#000"/>
<rect x="1869.7" y="1127.5" width="12" height="12" fill="#000"/>
<rect x="1879.9" y="1124.1" width="12" height="12" fill="#000"/>
<rect x="1890.1" y="1124.1" width="12" height="12" fill="#000"/>
<rect x="1900.2" y="1123" width="12" height="12" fill="#000"/>
<rect x="1910.4" y="1058.1" width="12" height="12" fill="#000"/>
<rect x="1920.6" y="975.3" width="12" height="12" fill="#000"/>
<rect x="1930.7" y="968.6" width="12" height="12" fill="#000"/>
<rect x="1940.9" y="966.3" width="12" height="12" fill="#000"/>
<rect x="1951" y="965.2" width="12" height="12" fill="#000"/>
<rect x="1961.2" y="964.1" width="12" height="12" fill="#000"/>
<rect x="1971.4" y="963" width="12" height="12" fill="#000"/>
<rect x="1981.5" y="960.7" width="12" height="12" fill="#000"/>
<rect x="1991.7" y="959.6" width="12" height="12" fill="#000"/>
<rect x="2001.9" y="958" width="12" height="12" fill="#000"/>
<path d="M1204.8 835.6 L1214.9 988.4 L1225.1 992.8 L1235.3 995.5 L1245.4 996.5 L1255.6 997 L1265.8 997 L1275.9 996.5 L1286.1 995 L1296.3 988.4 L1306.4 1000.4 L1316.6 1013.5 L1326.8 1015.7 L1336.9 1016.5 L1347.1 1017 L1357.3 1017 L1367.4 1017 L1377.6 1017 L1387.8 1017 L1397.9 1016.8 L1408.1 1030 L1418.3 1044.1 L1428.4 1046.3 L1438.6 1046.8 L1448.8 1047 L1458.9 1047 L1469.1 1047 L1479.2 1047.2 L1489.4 1047.4 L1499.6 1046.3 L1509.7 1061.6 L1519.9 1075.8 L1530.1 1079 L1540.2 1080 L1550.4 1080.5 L1560.6 1080.5 L1570.7 1080.5 L1580.9 1081 L1591.1 1081.3 L1601.2 1078.7 L1611.4 1084.3 L1621.6 1097.7 L1631.7 1098.8 L1641.9 1098.8 L1652.1 1098.8 L1662.2 1098.8 L1672.4 1101 L1682.6 1105.5 L1692.7 1101 L1702.9 1096.6 L1713.1 1105.5 L1723.2 1112.2 L1733.4 1116.7 L1743.6 1114.5 L1753.7 1114.5 L1763.9 1120.1 L1774.1 1113.4 L1784.2 1116.7 L1794.4 1119 L1804.6 1114.5 L1814.7 1122.3 L1824.9 1129 L1835.1 1130.1 L1845.2 1129 L1855.4 1127.9 L1865.6 1131.3 L1875.7 1133.5 L1885.9 1130.1 L1896.1 1130.1 L1906.2 1129 L1916.4 1064.1 L1926.6 981.3 L1936.7 974.6 L1946.9 972.3 L1957 971.2 L1967.2 970.1 L1977.4 969 L1987.5 966.7 L1997.7 965.6 L2007.9 964" fill="none" stroke="#262626" stroke-width="2.2" stroke-linejoin="round" stroke-linecap="round"/>
<path d="M1204.8 877.5 L1214.9 1043 L1225.1 1075.8 L1235.3 1103 L1245.4 1124 L1255.6 1139.3 L1265.8 1153.5 L1275.9 1165.6 L1286.1 1174.3 L1296.3 1183 L1306.4 1199.4 L1316.5 1231.1 L1328.3 1233.8 L1340.8 1237.2 L1352.8 1239.9 L1365.9 1243.1 L1377.3 1245.3 L1390.4 1247.5 L1399.8 1250.8 L1408.5 1260.6 L1418.3 1277 L1428.4 1277.5 L1438.6 1277.8 L1448.8 1278 L1458.9 1278.2 L1469.1 1278.5 L1479.2 1278.8 L1489.4 1279 L1499.6 1279.2 L1509.7 1292.3 L1519.9 1302.2 L1530.1 1302.6 L1540.2 1302.6 L1550.4 1302.6 L1560.6 1302.6 L1570.7 1302.6 L1580.9 1302.6 L1591.1 1302.6 L1601.2 1302 L1611.4 1311.6 L1621.6 1311.6 L1631.7 1311.6 L1641.9 1311.6 L1652.1 1311.6 L1662.2 1311.6 L1672.4 1311.6 L1682.6 1311.6 L1692.7 1311.6 L1702.9 1311.6 L1713.1 1316.1 L1723.2 1316.1 L1733.4 1316.1 L1743.6 1316.1 L1753.7 1316.1 L1763.9 1316.1 L1774.1 1316.1 L1784.2 1316.1 L1794.4 1316.1 L1804.6 1316.1 L1814.7 1316.1 L1824.9 1316.1 L1835.1 1316.1 L1845.2 1316.1 L1855.4 1316.1 L1865.6 1316.1 L1875.7 1316.1 L1885.9 1316.1 L1896.1 1316.1 L1906.2 1316.1 L1916.4 1276.3 L1926.9 1229.3 L1937.7 1237.1 L1949.8 1242.2 L1963.2 1246 L1977.8 1248.3 L1990.8 1251.2 L2004.2 1252.8" fill="none" stroke="#dc2c1c" stroke-width="2.6" stroke-linejoin="round" stroke-linecap="round"/>
<circle cx="1204.8" cy="877.5" r="6.8" fill="#dc2c1c"/>
<circle cx="1214.9" cy="1043" r="6.8" fill="#dc2c1c"/>
<circle cx="1225.1" cy="1075.8" r="6.8" fill="#dc2c1c"/>
<circle cx="1235.3" cy="1103" r="6.8" fill="#dc2c1c"/>
<circle cx="1245.4" cy="1124" r="6.8" fill="#dc2c1c"/>
<circle cx="1255.6" cy="1139.3" r="6.8" fill="#dc2c1c"/>
<circle cx="1265.8" cy="1153.5" r="6.8" fill="#dc2c1c"/>
<circle cx="1275.9" cy="1165.6" r="6.8" fill="#dc2c1c"/>
<circle cx="1286.1" cy="1174.3" r="6.8" fill="#dc2c1c"/>
<circle cx="1296.3" cy="1183" r="6.8" fill="#dc2c1c"/>
<circle cx="1306.4" cy="1199.4" r="6.8" fill="#dc2c1c"/>
<circle cx="1316.5" cy="1231.1" r="6.8" fill="#dc2c1c"/>
<circle cx="1328.3" cy="1233.8" r="6.8" fill="#dc2c1c"/>
<circle cx="1340.8" cy="1237.2" r="6.8" fill="#dc2c1c"/>
<circle cx="1352.8" cy="1239.9" r="6.8" fill="#dc2c1c"/>
<circle cx="1365.9" cy="1243.1" r="6.8" fill="#dc2c1c"/>
<circle cx="1377.3" cy="1245.3" r="6.8" fill="#dc2c1c"/>
<circle cx="1390.4" cy="1247.5" r="6.8" fill="#dc2c1c"/>
<circle cx="1399.8" cy="1250.8" r="6.8" fill="#dc2c1c"/>
<circle cx="1408.5" cy="1260.6" r="6.8" fill="#dc2c1c"/>
<circle cx="1418.3" cy="1277" r="6.8" fill="#dc2c1c"/>
<circle cx="1428.4" cy="1277.5" r="6.8" fill="#dc2c1c"/>
<circle cx="1438.6" cy="1277.8" r="6.8" fill="#dc2c1c"/>
<circle cx="1448.8" cy="1278" r="6.8" fill="#dc2c1c"/>
<circle cx="1458.9" cy="1278.2" r="6.8" fill="#dc2c1c"/>
<circle cx="1469.1" cy="1278.5" r="6.8" fill="#dc2c1c"/>
<circle cx="1479.2" cy="1278.8" r="6.8" fill="#dc2c1c"/>
<circle cx="1489.4" cy="1279" r="6.8" fill="#dc2c1c"/>
<circle cx="1499.6" cy="1279.2" r="6.8" fill="#dc2c1c"/>
<circle cx="1509.7" cy="1292.3" r="6.8" fill="#dc2c1c"/>
<circle cx="1519.9" cy="1302.2" r="6.8" fill="#dc2c1c"/>
<circle cx="1530.1" cy="1302.6" r="6.8" fill="#dc2c1c"/>
<circle cx="1540.2" cy="1302.6" r="6.8" fill="#dc2c1c"/>
<circle cx="1550.4" cy="1302.6" r="6.8" fill="#dc2c1c"/>
<circle cx="1560.6" cy="1302.6" r="6.8" fill="#dc2c1c"/>
<circle cx="1570.7" cy="1302.6" r="6.8" fill="#dc2c1c"/>
<circle cx="1580.9" cy="1302.6" r="6.8" fill="#dc2c1c"/>
<circle cx="1591.1" cy="1302.6" r="6.8" fill="#dc2c1c"/>
<circle cx="1601.2" cy="1302" r="6.8" fill="#dc2c1c"/>
<circle cx="1611.4" cy="1311.6" r="6.8" fill="#dc2c1c"/>
<circle cx="1621.6" cy="1311.6" r="6.8" fill="#dc2c1c"/>
<circle cx="1631.7" cy="1311.6" r="6.8" fill="#dc2c1c"/>
<circle cx="1641.9" cy="1311.6" r="6.8" fill="#dc2c1c"/>
<circle cx="1652.1" cy="1311.6" r="6.8" fill="#dc2c1c"/>
<circle cx="1662.2" cy="1311.6" r="6.8" fill="#dc2c1c"/>
<circle cx="1672.4" cy="1311.6" r="6.8" fill="#dc2c1c"/>
<circle cx="1682.6" cy="1311.6" r="6.8" fill="#dc2c1c"/>
<circle cx="1692.7" cy="1311.6" r="6.8" fill="#dc2c1c"/>
<circle cx="1702.9" cy="1311.6" r="6.8" fill="#dc2c1c"/>
<circle cx="1713.1" cy="1316.1" r="6.8" fill="#dc2c1c"/>
<circle cx="1723.2" cy="1316.1" r="6.8" fill="#dc2c1c"/>
<circle cx="1733.4" cy="1316.1" r="6.8" fill="#dc2c1c"/>
<circle cx="1743.6" cy="1316.1" r="6.8" fill="#dc2c1c"/>
<circle cx="1753.7" cy="1316.1" r="6.8" fill="#dc2c1c"/>
<circle cx="1763.9" cy="1316.1" r="6.8" fill="#dc2c1c"/>
<circle cx="1774.1" cy="1316.1" r="6.8" fill="#dc2c1c"/>
<circle cx="1784.2" cy="1316.1" r="6.8" fill="#dc2c1c"/>
<circle cx="1794.4" cy="1316.1" r="6.8" fill="#dc2c1c"/>
<circle cx="1804.6" cy="1316.1" r="6.8" fill="#dc2c1c"/>
<circle cx="1814.7" cy="1316.1" r="6.8" fill="#dc2c1c"/>
<circle cx="1824.9" cy="1316.1" r="6.8" fill="#dc2c1c"/>
<circle cx="1835.1" cy="1316.1" r="6.8" fill="#dc2c1c"/>
<circle cx="1845.2" cy="1316.1" r="6.8" fill="#dc2c1c"/>
<circle cx="1855.4" cy="1316.1" r="6.8" fill="#dc2c1c"/>
<circle cx="1865.6" cy="1316.1" r="6.8" fill="#dc2c1c"/>
<circle cx="1875.7" cy="1316.1" r="6.8" fill="#dc2c1c"/>
<circle cx="1885.9" cy="1316.1" r="6.8" fill="#dc2c1c"/>
<circle cx="1896.1" cy="1316.1" r="6.8" fill="#dc2c1c"/>
<circle cx="1906.2" cy="1316.1" r="6.8" fill="#dc2c1c"/>
<circle cx="1916.4" cy="1276.3" r="6.8" fill="#dc2c1c"/>
<circle cx="1926.9" cy="1229.3" r="6.8" fill="#dc2c1c"/>
<circle cx="1937.7" cy="1237.1" r="6.8" fill="#dc2c1c"/>
<circle cx="1949.8" cy="1242.2" r="6.8" fill="#dc2c1c"/>
<circle cx="1963.2" cy="1246" r="6.8" fill="#dc2c1c"/>
<circle cx="1977.8" cy="1248.3" r="6.8" fill="#dc2c1c"/>
<circle cx="1990.8" cy="1251.2" r="6.8" fill="#dc2c1c"/>
<circle cx="2004.2" cy="1252.8" r="6.8" fill="#dc2c1c"/>
</g>
<rect x="1195.3" y="789.6" width="812.3" height="611.6" fill="none" stroke="#111" stroke-width="2.8"/>
<line x1="1296.3" y1="1401.2" x2="1296.3" y2="1382.2" stroke="#111" stroke-width="2.7"/>
<line x1="1397.9" y1="1401.2" x2="1397.9" y2="1382.2" stroke="#111" stroke-width="2.7"/>
<line x1="1499.6" y1="1401.2" x2="1499.6" y2="1382.2" stroke="#111" stroke-width="2.7"/>
<line x1="1601.2" y1="1401.2" x2="1601.2" y2="1382.2" stroke="#111" stroke-width="2.7"/>
<line x1="1702.9" y1="1401.2" x2="1702.9" y2="1382.2" stroke="#111" stroke-width="2.7"/>
<line x1="1804.6" y1="1401.2" x2="1804.6" y2="1382.2" stroke="#111" stroke-width="2.7"/>
<line x1="1906.2" y1="1401.2" x2="1906.2" y2="1382.2" stroke="#111" stroke-width="2.7"/>
<line x1="1195.3" y1="865.2" x2="1207.3" y2="865.2" stroke="#111" stroke-width="2.7"/>
<line x1="1195.3" y1="941.8" x2="1207.3" y2="941.8" stroke="#111" stroke-width="2.7"/>
<line x1="1195.3" y1="1018.4" x2="1207.3" y2="1018.4" stroke="#111" stroke-width="2.7"/>
<line x1="1195.3" y1="1094.9" x2="1207.3" y2="1094.9" stroke="#111" stroke-width="2.7"/>
<line x1="1195.3" y1="1171.5" x2="1207.3" y2="1171.5" stroke="#111" stroke-width="2.7"/>
<line x1="1195.3" y1="1248.1" x2="1207.3" y2="1248.1" stroke="#111" stroke-width="2.7"/>
<line x1="1195.3" y1="1324.6" x2="1207.3" y2="1324.6" stroke="#111" stroke-width="2.7"/>
<text transform="translate(1186.5 801.2) scale(0.950 1)" font-size="44" text-anchor="end">1400</text>
<text transform="translate(1186.5 878.1) scale(0.950 1)" font-size="44" text-anchor="end">1200</text>
<text transform="translate(1186.5 955) scale(0.950 1)" font-size="44" text-anchor="end">1000</text>
<text transform="translate(1186.5 1031.9) scale(0.950 1)" font-size="44" text-anchor="end">800</text>
<text transform="translate(1186.5 1108.8) scale(0.950 1)" font-size="44" text-anchor="end">600</text>
<text transform="translate(1186.5 1185.7) scale(0.950 1)" font-size="44" text-anchor="end">400</text>
<text transform="translate(1186.5 1262.6) scale(0.950 1)" font-size="44" text-anchor="end">200</text>
<text transform="translate(1186.5 1339.5) scale(0.950 1)" font-size="44" text-anchor="end">0</text>
<text transform="translate(1186.5 1416.4) scale(0.950 1)" font-size="44" text-anchor="end">200</text>
<text transform="translate(1082.5 1416.4) scale(1.347 1)" font-size="44">−</text>
<text transform="translate(1194.6 1447.1) scale(0.950 1)" font-size="44" text-anchor="middle">0</text>
<text transform="translate(1296.3 1447.1) scale(0.950 1)" font-size="44" text-anchor="middle">10</text>
<text transform="translate(1397.9 1447.1) scale(0.950 1)" font-size="44" text-anchor="middle">20</text>
<text transform="translate(1499.6 1447.1) scale(0.950 1)" font-size="44" text-anchor="middle">30</text>
<text transform="translate(1601.2 1447.1) scale(0.950 1)" font-size="44" text-anchor="middle">40</text>
<text transform="translate(1702.9 1447.1) scale(0.950 1)" font-size="44" text-anchor="middle">50</text>
<text transform="translate(1804.6 1447.1) scale(0.950 1)" font-size="44" text-anchor="middle">60</text>
<text transform="translate(1906.2 1447.1) scale(0.950 1)" font-size="44" text-anchor="middle">70</text>
<text transform="translate(2007.9 1447.1) scale(0.950 1)" font-size="44" text-anchor="middle">80</text>
<text transform="translate(1600 1494.5) scale(0.950 1)" font-size="44" text-anchor="middle">Cycle number</text>
<text transform="translate(1078 1097) rotate(-90) scale(0.950 1)" font-size="44" text-anchor="middle">Capacity (mAh g<tspan font-size="31" dy="-15">−1</tspan><tspan dy="15">)</tspan></text>
<text transform="translate(1220.6 834.6)" font-size="50" font-weight="bold">(d)</text>
<text transform="translate(1255.4 979.3) scale(0.950 1)" font-size="44" text-anchor="middle" font-weight="bold">0.2</text>
<text transform="translate(1350.3 997.2) scale(0.950 1)" font-size="44" text-anchor="middle" font-weight="bold">0.5</text>
<text transform="translate(1446.8 1026.3) scale(0.950 1)" font-size="44" text-anchor="middle" font-weight="bold">1</text>
<text transform="translate(1550 1059.8) scale(0.950 1)" font-size="44" text-anchor="middle" font-weight="bold">2</text>
<text transform="translate(1651.7 1082.5) scale(0.950 1)" font-size="44" text-anchor="middle" font-weight="bold">3</text>
<text transform="translate(1753.2 1096) scale(0.950 1)" font-size="44" text-anchor="middle" font-weight="bold">4</text>
<text transform="translate(1855.8 1111.6) scale(0.950 1)" font-size="44" text-anchor="middle" font-weight="bold">5</text>
<text transform="translate(1963.3 948.6) scale(0.950 1)" font-size="44" text-anchor="middle" font-weight="bold">0.2</text>
<line x1="1525.8" y1="833" x2="1577.5" y2="833" stroke="#111" stroke-width="2.6"/>
<rect x="1546" y="827.3" width="11.4" height="11.4" fill="#000"/>
<line x1="1525.8" y1="882.5" x2="1577.5" y2="882.5" stroke="#dc2c1c" stroke-width="2.6"/>
<circle cx="1551.7" cy="882.5" r="7.3" fill="#dc2c1c"/>
<text transform="translate(1583 847.4) scale(0.950 1)" font-size="44" font-weight="bold">MnO/CoMn<tspan font-size="31" dy="6">2</tspan><tspan dy="-6">O</tspan><tspan font-size="31" dy="6">4</tspan><tspan dy="-6"><tspan font-weight="normal">⊂</tspan>GN</tspan></text>
<text transform="translate(1583 896.9) scale(0.950 1)" font-size="44" font-weight="bold">CoMn<tspan font-size="31" dy="6">2</tspan><tspan dy="-6">O</tspan><tspan font-size="31" dy="6">4</tspan></text>
<text transform="translate(1206 1375.7) scale(0.950 1)" font-size="43" font-weight="bold">Unit: A g<tspan font-size="31" dy="-15">−1</tspan></text>
<g clip-path="url(#ce)">
<path d="M222.5 1569 L233 1569 L237.6 1570 L366 1570 L454.6 1572 L542.6 1573.5 L660 1571 L770 1568.5 L1028.7 1567.4 L1320 1565.3 L1460.6 1564.1 L1551 1562.6 L1671.4 1562.6 L1730 1561 L1761.8 1558.7 L1792 1560.5 L1868 1561.1 L1868 1586.7 L1792 1586.7 L1761.8 1584.6 L1671.4 1585.2 L1551 1586.7 L1460.6 1586.7 L1310 1585.2 L1028.7 1586.8 L760 1588.3 L660 1593 L542.6 1596 L454.6 1594 L366.6 1592.5 L237.6 1592.5 L233 1601.3 L222.5 1601.3 Z" fill="#d4d2f0" stroke="#d4d2f0" stroke-width="5" stroke-linejoin="round"/>
<path d="M222.5 1569 L233 1569 L237.6 1570 L366 1570 L454.6 1572 L542.6 1573.5 L660 1571 L770 1568.5 L1028.7 1567.4 L1320 1565.3 L1460.6 1564.1 L1551 1562.6 L1671.4 1562.6 L1730 1561 L1761.8 1558.7 L1792 1560.5 L1868 1561.1 L1868 1586.7 L1792 1586.7 L1761.8 1584.6 L1671.4 1585.2 L1551 1586.7 L1460.6 1586.7 L1310 1585.2 L1028.7 1586.8 L760 1588.3 L660 1593 L542.6 1596 L454.6 1594 L366.6 1592.5 L237.6 1592.5 L233 1601.3 L222.5 1601.3 Z" fill="#4169b5"/>
<path d="M222.5 1752 L232.8 1752 L237 1763.7 L241.3 1766.9 L273.3 1772.2 L305.3 1772.2 L337.3 1768 L369.3 1760.5 L401.2 1753 L433.2 1744.5 L465.2 1739.2 L497.2 1736.6 L518.5 1734.9 L550.5 1737 L571.8 1740.3 L593.1 1747.7 L610 1756.2 L631.3 1763.7 L652.6 1771.2 L684.6 1773.3 L716.6 1775 L763.5 1775.9 L769.9 1771.2 L774.2 1745.6 L780.6 1742.4 L801.9 1740.3 L823.2 1741.3 L855.2 1746.7 L887.2 1754.1 L929.8 1756.2 L972.5 1757.3 L1010 1759 L1064 1757.3 L1149.3 1756.2 L1159.9 1752 L1213.2 1750.9 L1223.9 1747.7 L1255.9 1745.6 L1266.5 1750.9 L1277.2 1763.7 L1285.7 1763.7 L1296.4 1749.9 L1302.8 1746.7 L1319.8 1746.7 L1362.5 1748.8 L1375.3 1755.2 L1381.7 1762.6 L1392.3 1754 L1398.5 1751.3 L1422 1751.3 L1432.6 1755.6 L1443.3 1749.2 L1466.8 1749.2 L1479.6 1767.3 L1517.9 1767.3 L1556.3 1765.2 L1577.6 1775.8 L1613.9 1779 L1620.3 1772.6 L1662.9 1773.7 L1688.5 1791.8 L1697 1794 L1709.8 1786 L1744 1784.4 L1776 1782.2 L1802.6 1779.6 L1818.6 1774.8 L1868 1774.8 L1868 1800.9 L1829.3 1800.9 L1808 1802.5 L1776 1807.8 L1744 1811 L1709.8 1815.3 L1694.9 1821.7 L1677.8 1815.3 L1656.5 1803.6 L1631 1802.5 L1613.9 1808.9 L1571.2 1804.6 L1556.3 1794 L1517.9 1796.1 L1471 1792.9 L1454 1779 L1445.4 1780.1 L1432.6 1787.6 L1422 1780.1 L1407.1 1783.3 L1392 1792 L1383.8 1790.4 L1366.7 1782.9 L1358.2 1775.4 L1341.2 1775.4 L1330.5 1784 L1315.6 1784 L1307 1778.6 L1298.5 1791.4 L1287.8 1797.8 L1277.2 1794.6 L1255.9 1779.7 L1245.2 1775.4 L1170.6 1777.6 L1127.9 1782.9 L1064 1784 L1010 1784.5 L972.5 1782.9 L929.8 1781.8 L876.5 1777.6 L844.5 1770.1 L823.2 1766.9 L801.9 1765.8 L793.4 1769 L787 1790.4 L776.3 1798.9 L737.9 1802.1 L695.3 1802.1 L652.6 1798.9 L610 1786.1 L582.5 1774.4 L550.5 1764.8 L529.2 1762.6 L497.2 1763.7 L465.2 1768 L433.2 1775.4 L401.2 1782.9 L369.3 1790.4 L337.3 1795.7 L305.3 1797.8 L273.3 1796.8 L241.3 1791.4 L222.5 1788.2 Z" fill="#f3b5b4" stroke="#f3b5b4" stroke-width="2" stroke-linejoin="round"/>
<path d="M222.5 1752 L232.8 1752 L237 1763.7 L241.3 1766.9 L273.3 1772.2 L305.3 1772.2 L337.3 1768 L369.3 1760.5 L401.2 1753 L433.2 1744.5 L465.2 1739.2 L497.2 1736.6 L518.5 1734.9 L550.5 1737 L571.8 1740.3 L593.1 1747.7 L610 1756.2 L631.3 1763.7 L652.6 1771.2 L684.6 1773.3 L716.6 1775 L763.5 1775.9 L769.9 1771.2 L774.2 1745.6 L780.6 1742.4 L801.9 1740.3 L823.2 1741.3 L855.2 1746.7 L887.2 1754.1 L929.8 1756.2 L972.5 1757.3 L1010 1759 L1064 1757.3 L1149.3 1756.2 L1159.9 1752 L1213.2 1750.9 L1223.9 1747.7 L1255.9 1745.6 L1266.5 1750.9 L1277.2 1763.7 L1285.7 1763.7 L1296.4 1749.9 L1302.8 1746.7 L1319.8 1746.7 L1362.5 1748.8 L1375.3 1755.2 L1381.7 1762.6 L1392.3 1754 L1398.5 1751.3 L1422 1751.3 L1432.6 1755.6 L1443.3 1749.2 L1466.8 1749.2 L1479.6 1767.3 L1517.9 1767.3 L1556.3 1765.2 L1577.6 1775.8 L1613.9 1779 L1620.3 1772.6 L1662.9 1773.7 L1688.5 1791.8 L1697 1794 L1709.8 1786 L1744 1784.4 L1776 1782.2 L1802.6 1779.6 L1818.6 1774.8 L1868 1774.8 L1868 1797.9 L1829.3 1797.9 L1808 1799.5 L1776 1804.8 L1744 1808 L1709.8 1812.3 L1694.9 1818.7 L1677.8 1812.3 L1656.5 1800.6 L1631 1799.5 L1613.9 1805.9 L1571.2 1801.6 L1556.3 1791 L1517.9 1793.1 L1471 1789.9 L1454 1776 L1445.4 1777.1 L1432.6 1784.6 L1422 1777.1 L1407.1 1780.3 L1392 1789 L1383.8 1787.4 L1366.7 1779.9 L1358.2 1772.4 L1341.2 1772.4 L1330.5 1781 L1315.6 1781 L1307 1775.6 L1298.5 1788.4 L1287.8 1794.8 L1277.2 1791.6 L1255.9 1776.7 L1245.2 1772.4 L1170.6 1774.6 L1127.9 1779.9 L1064 1781 L1010 1781.5 L972.5 1779.9 L929.8 1778.8 L876.5 1774.6 L844.5 1767.1 L823.2 1763.9 L801.9 1762.8 L793.4 1766 L787 1787.4 L776.3 1795.9 L737.9 1799.1 L695.3 1799.1 L652.6 1795.9 L610 1783.1 L582.5 1771.4 L550.5 1761.8 L529.2 1759.6 L497.2 1760.7 L465.2 1765 L433.2 1772.4 L401.2 1779.9 L369.3 1787.4 L337.3 1792.7 L305.3 1794.8 L273.3 1793.8 L241.3 1788.4 L222.5 1785.2 Z" fill="#3a1414"/>
<path d="M222.5 1754.5 L232.8 1754.5 L237 1766.2 L241.3 1769.4 L273.3 1774.7 L305.3 1774.7 L337.3 1770.5 L369.3 1763 L401.2 1755.5 L433.2 1747 L465.2 1741.7 L497.2 1739.1 L518.5 1737.4 L550.5 1739.5 L571.8 1742.8 L593.1 1750.2 L610 1758.7 L631.3 1766.2 L652.6 1773.7 L684.6 1775.8 L716.6 1777.5 L763.5 1778.4 L769.9 1773.7 L774.2 1748.1 L780.6 1744.9 L801.9 1742.8 L823.2 1743.8 L855.2 1749.2 L887.2 1756.6 L929.8 1758.7 L972.5 1759.8 L1010 1761.5 L1064 1759.8 L1149.3 1758.7 L1159.9 1754.5 L1213.2 1753.4 L1223.9 1750.2 L1255.9 1748.1 L1266.5 1753.4 L1277.2 1766.2 L1285.7 1766.2 L1296.4 1752.4 L1302.8 1749.2 L1319.8 1749.2 L1362.5 1751.3 L1375.3 1757.7 L1381.7 1765.1 L1392.3 1756.5 L1398.5 1753.8 L1422 1753.8 L1432.6 1758.1 L1443.3 1751.7 L1466.8 1751.7 L1479.6 1769.8 L1517.9 1769.8 L1556.3 1767.7 L1577.6 1778.3 L1613.9 1781.5 L1620.3 1775.1 L1662.9 1776.2 L1688.5 1794.3 L1697 1796.5 L1709.8 1788.5 L1744 1786.9 L1776 1784.7 L1802.6 1782.1 L1818.6 1777.3 L1868 1777.3 L1868 1800.9 L1829.3 1800.9 L1808 1802.5 L1776 1807.8 L1744 1811 L1709.8 1815.3 L1694.9 1821.7 L1677.8 1815.3 L1656.5 1803.6 L1631 1802.5 L1613.9 1808.9 L1571.2 1804.6 L1556.3 1794 L1517.9 1796.1 L1471 1792.9 L1454 1779 L1445.4 1780.1 L1432.6 1787.6 L1422 1780.1 L1407.1 1783.3 L1392 1792 L1383.8 1790.4 L1366.7 1782.9 L1358.2 1775.4 L1341.2 1775.4 L1330.5 1784 L1315.6 1784 L1307 1778.6 L1298.5 1791.4 L1287.8 1797.8 L1277.2 1794.6 L1255.9 1779.7 L1245.2 1775.4 L1170.6 1777.6 L1127.9 1782.9 L1064 1784 L1010 1784.5 L972.5 1782.9 L929.8 1781.8 L876.5 1777.6 L844.5 1770.1 L823.2 1766.9 L801.9 1765.8 L793.4 1769 L787 1790.4 L776.3 1798.9 L737.9 1802.1 L695.3 1802.1 L652.6 1798.9 L610 1786.1 L582.5 1774.4 L550.5 1764.8 L529.2 1762.6 L497.2 1763.7 L465.2 1768 L433.2 1775.4 L401.2 1782.9 L369.3 1790.4 L337.3 1795.7 L305.3 1797.8 L273.3 1796.8 L241.3 1791.4 L222.5 1788.2 Z" fill="#e53834"/>
<rect x="222" y="1620.6" width="9" height="17.4" fill="#111"/>
<rect x="222" y="1716.6" width="9" height="18.6" fill="#4169b5"/>
</g>
<path d="M1853 1539.3 H221.3 M221.3 1539.3 V2014.8 M221.3 2014.8 H1853" stroke="#111" stroke-width="2.6" fill="none"/>
<path d="M1853 1539.3 H1869.1 V2014.8 H1853" stroke="#2b3aa0" stroke-width="2.6" fill="none"/>
<line x1="550.9" y1="2014.8" x2="550.9" y2="1992.8" stroke="#111" stroke-width="2.6"/>
<line x1="880.4" y1="2014.8" x2="880.4" y2="1992.8" stroke="#111" stroke-width="2.6"/>
<line x1="1210" y1="2014.8" x2="1210" y2="1992.8" stroke="#111" stroke-width="2.6"/>
<line x1="1539.5" y1="2014.8" x2="1539.5" y2="1992.8" stroke="#111" stroke-width="2.6"/>
<line x1="221.3" y1="1576" x2="236.3" y2="1576" stroke="#111" stroke-width="2.6"/>
<line x1="221.3" y1="1649.1" x2="236.3" y2="1649.1" stroke="#111" stroke-width="2.6"/>
<line x1="221.3" y1="1722.2" x2="236.3" y2="1722.2" stroke="#111" stroke-width="2.6"/>
<line x1="221.3" y1="1795.3" x2="236.3" y2="1795.3" stroke="#111" stroke-width="2.6"/>
<line x1="221.3" y1="1868.4" x2="236.3" y2="1868.4" stroke="#111" stroke-width="2.6"/>
<line x1="221.3" y1="1941.5" x2="236.3" y2="1941.5" stroke="#111" stroke-width="2.6"/>
<line x1="1869.1" y1="1926.9" x2="1854.1" y2="1926.9" stroke="#2b3aa0" stroke-width="2.6"/>
<line x1="1869.1" y1="1838.9" x2="1854.1" y2="1838.9" stroke="#2b3aa0" stroke-width="2.6"/>
<line x1="1869.1" y1="1750.9" x2="1854.1" y2="1750.9" stroke="#2b3aa0" stroke-width="2.6"/>
<line x1="1869.1" y1="1662.9" x2="1854.1" y2="1662.9" stroke="#2b3aa0" stroke-width="2.6"/>
<line x1="1869.1" y1="1574.9" x2="1854.1" y2="1574.9" stroke="#2b3aa0" stroke-width="2.6"/>
<text transform="translate(210.5 1590.9) scale(0.950 1)" font-size="43" text-anchor="end">1200</text>
<text transform="translate(210.5 1664) scale(0.950 1)" font-size="43" text-anchor="end">1000</text>
<text transform="translate(210.5 1737.2) scale(0.950 1)" font-size="43" text-anchor="end">800</text>
<text transform="translate(210.5 1810.3) scale(0.950 1)" font-size="43" text-anchor="end">600</text>
<text transform="translate(210.5 1883.5) scale(0.950 1)" font-size="43" text-anchor="end">400</text>
<text transform="translate(210.5 1956.6) scale(0.950 1)" font-size="43" text-anchor="end">200</text>
<text transform="translate(210.5 2029.8) scale(0.950 1)" font-size="43" text-anchor="end">0</text>
<text transform="translate(1877 2029.7) scale(0.950 1)" font-size="43" fill="#5b52b5">0</text>
<text transform="translate(1877 1941.7) scale(0.950 1)" font-size="43" fill="#5b52b5">20</text>
<text transform="translate(1877 1853.7) scale(0.950 1)" font-size="43" fill="#5b52b5">40</text>
<text transform="translate(1877 1765.7) scale(0.950 1)" font-size="43" fill="#5b52b5">60</text>
<text transform="translate(1877 1677.7) scale(0.950 1)" font-size="43" fill="#5b52b5">80</text>
<text transform="translate(1877 1589.7) scale(0.950 1)" font-size="43" fill="#5b52b5">100</text>
<text transform="translate(221.3 2073.2) scale(0.950 1)" font-size="43" text-anchor="middle">0</text>
<text transform="translate(550.9 2073.2) scale(0.950 1)" font-size="43" text-anchor="middle">200</text>
<text transform="translate(880.4 2073.2) scale(0.950 1)" font-size="43" text-anchor="middle">400</text>
<text transform="translate(1210 2073.2) scale(0.950 1)" font-size="43" text-anchor="middle">600</text>
<text transform="translate(1539.5 2073.2) scale(0.950 1)" font-size="43" text-anchor="middle">800</text>
<text transform="translate(1869.1 2073.2) scale(0.950 1)" font-size="43" text-anchor="middle">1 000</text>
<text transform="translate(1044 2116.6) scale(0.950 1)" font-size="43" text-anchor="middle">Cycle number</text>
<text transform="translate(104 1770) rotate(-90) scale(0.950 1)" font-size="43" text-anchor="middle">Capacity (mAh g<tspan font-size="30" dy="-14.5">−1</tspan><tspan dy="14.5">)</tspan></text>
<text transform="translate(1990 1775) rotate(-90) scale(0.950 1)" font-size="43" text-anchor="middle" fill="#5b52b5">Coulombic efficiency (%)</text>
<text transform="translate(249.5 1636.2) scale(1.040 1)" font-size="48.5" font-weight="bold">(e)</text>
<text transform="translate(240 1983.6)" font-size="42" font-weight="bold">1 A g<tspan font-size="31" dy="-14">−1</tspan></text>
<line x1="1517" y1="1894.4" x2="1591.4" y2="1894.4" stroke="#111" stroke-width="2.6"/>
<rect x="1546" y="1886.4" width="16" height="16" fill="#000"/>
<line x1="1517" y1="1954.3" x2="1591.4" y2="1954.3" stroke="#dc2c1c" stroke-width="2.6"/>
<circle cx="1554.4" cy="1954.3" r="9" fill="#dc2c1c"/>
<text transform="translate(1598 1910.8) scale(0.950 1)" font-size="43" font-weight="bold">Discharge</text>
<text transform="translate(1598 1969.6) scale(0.950 1)" font-size="43" font-weight="bold">Charge</text>
</svg>
</body></html>
